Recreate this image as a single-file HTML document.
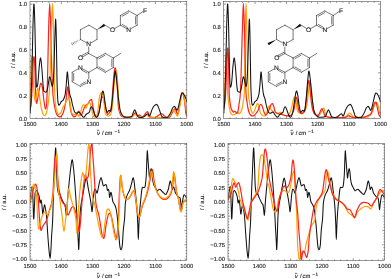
<!DOCTYPE html>
<html lang="en">
<head>
<meta charset="utf-8">
<title>Spectra</title>
<style>
html,body{margin:0;padding:0;background:#fff;}
body{width:392px;height:279px;overflow:hidden;font-family:"Liberation Sans",sans-serif;}
svg{display:block;}
svg text{text-rendering:geometricPrecision;stroke:#222;stroke-width:0.12px;}
</style>
</head>
<body>
<svg width="392" height="279" viewBox="0 0 392 279" font-family="'Liberation Sans', sans-serif" font-size="5.85" fill="#222">
<rect width="392" height="279" fill="#fff"/>
<clipPath id="c1"><rect x="30" y="1.7" width="156.8" height="116.8"/></clipPath>
<clipPath id="c2"><rect x="223.7" y="1.7" width="156.8" height="116.8"/></clipPath>
<clipPath id="c3"><rect x="30" y="143.6" width="156.8" height="117.1"/></clipPath>
<clipPath id="c4"><rect x="228" y="143.6" width="156.6" height="117.1"/></clipPath>
<g clip-path="url(#c1)">
<path d="M30 110C30.22 108.67 30.88 107 31.3 102C31.72 97 32.15 86.83 32.5 80C32.85 73.17 33.13 64.83 33.4 61C33.67 57.17 33.87 56.17 34.1 57C34.33 57.83 34.57 60.5 34.8 66C35.03 71.5 35.23 83.87 35.5 90C35.77 96.13 36.07 101.13 36.4 102.8C36.73 104.47 37.07 101.97 37.5 100C37.93 98.03 38.53 93.58 39 91C39.47 88.42 39.93 85.78 40.3 84.5C40.67 83.22 40.87 82.88 41.2 83.3C41.53 83.72 41.92 84.72 42.3 87C42.68 89.28 43.1 93.83 43.5 97C43.9 100.17 44.33 104.03 44.7 106C45.07 107.97 45.37 109.3 45.7 108.8C46.03 108.3 46.38 108.63 46.7 103C47.02 97.37 47.28 87.17 47.6 75C47.92 62.83 48.25 41.93 48.6 30C48.95 18.07 49.33 3.4 49.7 3.4C50.07 3.4 50.45 18.9 50.8 30C51.15 41.1 51.43 59.17 51.8 70C52.17 80.83 52.55 89 53 95C53.45 101 54 103.08 54.5 106C55 108.92 55.5 110.92 56 112.5C56.5 114.08 56.92 114.78 57.5 115.5C58.08 116.22 58.83 116.72 59.5 116.8C60.17 116.88 60.92 116.58 61.5 116C62.08 115.42 62.58 114.3 63 113.3C63.42 112.3 63.72 111 64 110C64.28 109 64.47 108.38 64.7 107.3C64.93 106.22 65.18 104.67 65.4 103.5C65.62 102.33 65.77 102.22 66 100.3C66.23 98.38 66.53 94.22 66.8 92C67.07 89.78 67.33 87.17 67.6 87C67.87 86.83 68.13 89 68.4 91C68.67 93 68.95 96.72 69.2 99C69.45 101.28 69.57 102.45 69.9 104.7C70.23 106.95 70.8 110.78 71.2 112.5C71.6 114.22 71.95 114.35 72.3 115C72.65 115.65 72.77 116.18 73.3 116.4C73.83 116.62 74.88 116.78 75.5 116.3C76.12 115.82 76.6 114.25 77 113.5C77.4 112.75 77.62 112.18 77.9 111.8C78.18 111.42 78.43 111.08 78.7 111.2C78.97 111.32 79.23 111.93 79.5 112.5C79.77 113.07 80.03 114.1 80.3 114.6C80.57 115.1 80.82 115.6 81.1 115.5C81.38 115.4 81.7 114.65 82 114C82.3 113.35 82.57 112.52 82.9 111.6C83.23 110.68 83.65 109.37 84 108.5C84.35 107.63 84.6 107.03 85 106.4C85.4 105.77 85.95 105.07 86.4 104.7C86.85 104.33 87.2 104.78 87.7 104.2C88.2 103.62 88.78 102.02 89.4 101.2C90.02 100.38 90.95 99.17 91.4 99.3C91.85 99.43 91.85 100.82 92.1 102C92.35 103.18 92.47 104.3 92.9 106.4C93.33 108.5 94.25 112.92 94.7 114.6C95.15 116.28 95.32 116.07 95.6 116.5C95.88 116.93 96.03 117.32 96.4 117.2C96.77 117.08 97.37 116.55 97.8 115.8C98.23 115.05 98.6 114.42 99 112.7C99.4 110.98 99.83 107.7 100.2 105.5C100.57 103.3 100.85 100.92 101.2 99.5C101.55 98.08 101.93 97.25 102.3 97C102.67 96.75 103.07 97.42 103.4 98C103.73 98.58 103.98 99.25 104.3 100.5C104.62 101.75 104.95 103.67 105.3 105.5C105.65 107.33 106 109.98 106.4 111.5C106.8 113.02 107.18 114.43 107.7 114.6C108.22 114.77 109.03 113.27 109.5 112.5C109.97 111.73 110.22 110.87 110.5 110C110.78 109.13 110.95 108.92 111.2 107.3C111.45 105.68 111.72 103.52 112 100.3C112.28 97.08 112.58 92.22 112.9 88C113.22 83.78 113.55 78.37 113.9 75C114.25 71.63 114.62 68.13 115 67.8C115.38 67.47 115.83 70.13 116.2 73C116.57 75.87 116.93 81.17 117.2 85C117.47 88.83 117.63 92.72 117.8 96C117.97 99.28 118.05 102.53 118.2 104.7C118.35 106.87 118.42 107.57 118.7 109C118.98 110.43 119.42 112.07 119.9 113.3C120.38 114.53 120.8 115.75 121.6 116.4C122.4 117.05 123.25 117.07 124.7 117.2C126.15 117.33 129 117.35 130.3 117.2C131.6 117.05 131.88 116.83 132.5 116.3C133.12 115.77 133.53 114.57 134 114C134.47 113.43 134.92 112.85 135.3 112.9C135.68 112.95 135.98 113.78 136.3 114.3C136.62 114.82 136.87 115.78 137.2 116C137.53 116.22 137.93 115.8 138.3 115.6C138.67 115.4 139.03 114.77 139.4 114.8C139.77 114.83 140.07 115.47 140.5 115.8C140.93 116.13 141.45 116.8 142 116.8C142.55 116.8 143.22 116.38 143.8 115.8C144.38 115.22 144.9 114 145.5 113.3C146.1 112.6 146.9 111.57 147.4 111.6C147.9 111.63 148.13 112.73 148.5 113.5C148.87 114.27 149.02 115.53 149.6 116.2C150.18 116.87 150.93 117.32 152 117.5C153.07 117.68 154.87 117.73 156 117.3C157.13 116.87 158.05 115.45 158.8 114.9C159.55 114.35 160 114.18 160.5 114C161 113.82 161.3 113.63 161.8 113.8C162.3 113.97 162.87 114.48 163.5 115C164.13 115.52 164.68 116.48 165.6 116.9C166.52 117.32 168.13 117.73 169 117.5C169.87 117.27 170.23 116.32 170.8 115.5C171.37 114.68 171.9 113.55 172.4 112.6C172.9 111.65 173.38 110.42 173.8 109.8C174.22 109.18 174.53 108.78 174.9 108.9C175.27 109.02 175.58 109.6 176 110.5C176.42 111.4 176.95 114.3 177.4 114.3C177.85 114.3 178.25 112.38 178.7 110.5C179.15 108.62 179.68 105.58 180.1 103C180.52 100.42 180.85 96.78 181.2 95C181.55 93.22 181.85 92.38 182.2 92.3C182.55 92.22 182.93 93.12 183.3 94.5C183.67 95.88 184.08 98.52 184.4 100.6C184.72 102.68 184.93 104.77 185.2 107C185.47 109.23 185.7 112.5 186 114C186.3 115.5 186.83 115.67 187 116" fill="none" stroke="#ff2020" stroke-width="1.2" stroke-linejoin="round" stroke-linecap="round"/>
<path d="M30 108C30.1 105 30.4 97 30.6 90C30.8 83 31 71.5 31.2 66C31.4 60.5 31.58 58 31.8 57C32.02 56 32.25 56.17 32.5 60C32.75 63.83 33.02 74.28 33.3 80C33.58 85.72 33.87 90.75 34.2 94.3C34.53 97.85 34.95 101.02 35.3 101.3C35.65 101.58 35.93 98.13 36.3 96C36.67 93.87 37.1 89.27 37.5 88.5C37.9 87.73 38.28 89.48 38.7 91.4C39.12 93.32 39.53 97.07 40 100C40.47 102.93 41 106.67 41.5 109C42 111.33 42.5 112.9 43 114C43.5 115.1 44 115.6 44.5 115.6C45 115.6 45.5 115.27 46 114C46.5 112.73 47 111 47.5 108C48 105 48.53 102.33 49 96C49.47 89.67 49.9 81 50.3 70C50.7 59 51.02 41.1 51.4 30C51.78 18.9 52.27 3.4 52.6 3.4C52.93 3.4 53.13 18.07 53.4 30C53.67 41.93 53.92 63.33 54.2 75C54.48 86.67 54.72 94.08 55.1 100C55.48 105.92 55.92 108.07 56.5 110.5C57.08 112.93 58.02 114.1 58.6 114.6C59.18 115.1 59.57 113.93 60 113.5C60.43 113.07 60.72 113.03 61.2 112C61.68 110.97 62.32 108.52 62.9 107.3C63.48 106.08 64.12 105.72 64.7 104.7C65.28 103.68 65.85 102.27 66.4 101.2C66.95 100.13 67.57 98.92 68 98.3C68.43 97.68 68.72 97.22 69 97.5C69.28 97.78 69.48 98.8 69.7 100C69.92 101.2 69.98 102.62 70.3 104.7C70.62 106.78 71.1 110.92 71.6 112.5C72.1 114.08 72.65 113.85 73.3 114.2C73.95 114.55 74.92 114.8 75.5 114.6C76.08 114.4 76.37 113 76.8 113C77.23 113 77.73 114.05 78.1 114.6C78.47 115.15 78.7 116.23 79 116.3C79.3 116.37 79.62 115.63 79.9 115C80.18 114.37 80.35 113.78 80.7 112.5C81.05 111.22 81.62 108.52 82 107.3C82.38 106.08 82.7 105.63 83 105.2C83.3 104.77 83.5 104.57 83.8 104.7C84.1 104.83 84.45 105.43 84.8 106C85.15 106.57 85.57 108.05 85.9 108.1C86.23 108.15 86.5 107.02 86.8 106.3C87.1 105.58 87.4 104.38 87.7 103.8C88 103.22 88.3 103.05 88.6 102.8C88.9 102.55 89.2 102.1 89.5 102.3C89.8 102.5 90.12 103.17 90.4 104C90.68 104.83 90.78 105.53 91.2 107.3C91.62 109.07 92.47 113.07 92.9 114.6C93.33 116.13 93.5 116.07 93.8 116.5C94.1 116.93 94.27 117.15 94.7 117.2C95.13 117.25 95.97 117.33 96.4 116.8C96.83 116.27 97.02 115.3 97.3 114C97.58 112.7 97.82 111.28 98.1 109C98.38 106.72 98.73 102.47 99 100.3C99.27 98.13 99.43 97.13 99.7 96C99.97 94.87 100.3 94 100.6 93.5C100.9 93 101.2 92.92 101.5 93C101.8 93.08 102.1 93.42 102.4 94C102.7 94.58 103 94.72 103.3 96.5C103.6 98.28 103.9 102.03 104.2 104.7C104.5 107.37 104.8 110.82 105.1 112.5C105.4 114.18 105.72 114.3 106 114.8C106.28 115.3 106.3 115.3 106.8 115.5C107.3 115.7 108.35 116.15 109 116C109.65 115.85 110.2 115.77 110.7 114.6C111.2 113.43 111.63 111.38 112 109C112.37 106.62 112.6 103.8 112.9 100.3C113.2 96.8 113.43 91.88 113.8 88C114.17 84.12 114.67 79.92 115.1 77C115.53 74.08 116.05 70.67 116.4 70.5C116.75 70.33 116.97 73.58 117.2 76C117.43 78.42 117.62 82 117.8 85C117.98 88 118.13 91.17 118.3 94C118.47 96.83 118.6 99.42 118.8 102C119 104.58 119.17 107.58 119.5 109.5C119.83 111.42 120.22 112.33 120.8 113.5C121.38 114.67 121.97 115.88 123 116.5C124.03 117.12 125.67 117.12 127 117.2C128.33 117.28 129.95 117.2 131 117C132.05 116.8 132.7 116.4 133.3 116C133.9 115.6 134.2 114.8 134.6 114.6C135 114.4 135.33 114.65 135.7 114.8C136.07 114.95 136.25 115.17 136.8 115.5C137.35 115.83 137.97 116.55 139 116.8C140.03 117.05 141.92 117.22 143 117C144.08 116.78 144.87 115.9 145.5 115.5C146.13 115.1 146.38 114.55 146.8 114.6C147.22 114.65 147.47 115.4 148 115.8C148.53 116.2 148 116.72 150 117C152 117.28 157 117.42 160 117.5C163 117.58 166.37 117.83 168 117.5C169.63 117.17 169.3 116.25 169.8 115.5C170.3 114.75 170.58 113.75 171 113C171.42 112.25 171.9 111.43 172.3 111C172.7 110.57 172.98 110.27 173.4 110.4C173.82 110.53 174.3 111.1 174.8 111.8C175.3 112.5 175.95 113.9 176.4 114.6C176.85 115.3 177.13 116.27 177.5 116C177.87 115.73 178.15 115 178.6 113C179.05 111 179.7 106.83 180.2 104C180.7 101.17 181.18 97.95 181.6 96C182.02 94.05 182.33 92.47 182.7 92.3C183.07 92.13 183.43 93.38 183.8 95C184.17 96.62 184.53 99.67 184.9 102C185.27 104.33 185.65 107.17 186 109C186.35 110.83 186.83 112.33 187 113" fill="none" stroke="#ffa000" stroke-width="1.2" stroke-linejoin="round" stroke-linecap="round"/>
<path d="M30 113C30.17 110.83 30.67 107.17 31 100C31.33 92.83 31.67 82.5 32 70C32.33 57.5 32.67 36 33 25C33.33 14 33.67 3.17 34 4C34.33 4.83 34.72 19.83 35 30C35.28 40.17 35.48 56 35.7 65C35.92 74 36.08 80.33 36.3 84C36.52 87.67 36.72 87.33 37 87C37.28 86.67 37.62 85.5 38 82C38.38 78.5 38.87 70 39.3 66C39.73 62 40.18 57.67 40.6 58C41.02 58.33 41.4 63.67 41.8 68C42.2 72.33 42.67 80.2 43 84C43.33 87.8 43.42 89.47 43.8 90.8C44.18 92.13 44.8 91.88 45.3 92C45.8 92.12 46.35 92.5 46.8 91.5C47.25 90.5 47.55 88.42 48 86C48.45 83.58 49.03 78 49.5 77C49.97 76 50.38 78.5 50.8 80C51.22 81.5 51.63 85.33 52 86C52.37 86.67 52.68 86.67 53 84C53.32 81.33 53.6 77.33 53.9 70C54.2 62.67 54.5 48.5 54.8 40C55.1 31.5 55.43 18.67 55.7 19C55.97 19.33 56.18 31.83 56.4 42C56.62 52.17 56.77 70.33 57 80C57.23 89.67 57.53 95.83 57.8 100C58.07 104.17 58.23 104.33 58.6 105C58.97 105.67 59.53 104.6 60 104C60.47 103.4 60.87 102.07 61.4 101.4C61.93 100.73 62.57 101.18 63.2 100C63.83 98.82 64.68 96.97 65.2 94.3C65.72 91.63 65.95 87.72 66.3 84C66.65 80.28 66.98 72.67 67.3 72C67.62 71.33 67.88 76.92 68.2 80C68.52 83.08 68.87 87.83 69.2 90.5C69.53 93.17 69.87 94.67 70.2 96C70.53 97.33 70.85 97.17 71.2 98.5C71.55 99.83 71.92 102.33 72.3 104C72.68 105.67 73.08 107.12 73.5 108.5C73.92 109.88 74.25 111.5 74.8 112.3C75.35 113.1 76.27 113.27 76.8 113.3C77.33 113.33 77.63 112.72 78 112.5C78.37 112.28 78.67 111.92 79 112C79.33 112.08 79.65 112.57 80 113C80.35 113.43 80.68 114.05 81.1 114.6C81.52 115.15 82.05 115.87 82.5 116.3C82.95 116.73 83.38 117.25 83.8 117.2C84.22 117.15 84.65 116.43 85 116C85.35 115.57 85.45 115.05 85.9 114.6C86.35 114.15 87.12 113.73 87.7 113.3C88.28 112.87 88.93 112.88 89.4 112C89.87 111.12 90.13 108.87 90.5 108C90.87 107.13 91.27 106.75 91.6 106.8C91.93 106.85 92.2 107.65 92.5 108.3C92.8 108.95 92.97 109.5 93.4 110.7C93.83 111.9 94.67 114.48 95.1 115.5C95.53 116.52 95.72 116.52 96 116.8C96.28 117.08 96.47 117.42 96.8 117.2C97.13 116.98 97.63 116.28 98 115.5C98.37 114.72 98.62 114.3 99 112.5C99.38 110.7 99.87 107.45 100.3 104.7C100.73 101.95 101.27 98.12 101.6 96C101.93 93.88 102.08 92.83 102.3 92C102.52 91.17 102.7 90.92 102.9 91C103.1 91.08 103.28 91.67 103.5 92.5C103.72 93.33 103.9 93.97 104.2 96C104.5 98.03 104.93 102.25 105.3 104.7C105.67 107.15 106.08 109.4 106.4 110.7C106.72 112 106.9 112.42 107.2 112.5C107.5 112.58 107.9 111.57 108.2 111.2C108.5 110.83 108.7 110.37 109 110.3C109.3 110.23 109.72 110.65 110 110.8C110.28 110.95 110.48 111.58 110.7 111.2C110.92 110.82 111.12 109.58 111.3 108.5C111.48 107.42 111.57 106.78 111.8 104.7C112.03 102.62 112.38 99.45 112.7 96C113.02 92.55 113.3 88.12 113.7 84C114.1 79.88 114.67 72.47 115.1 71.3C115.53 70.13 115.92 74.22 116.3 77C116.68 79.78 117.05 84.5 117.4 88C117.75 91.5 118.08 95.22 118.4 98C118.72 100.78 119.05 102.87 119.3 104.7C119.55 106.53 119.58 107.57 119.9 109C120.22 110.43 120.62 112.07 121.2 113.3C121.78 114.53 122.68 115.75 123.4 116.4C124.12 117.05 124.73 117.05 125.5 117.2C126.27 117.35 127.08 117.37 128 117.3C128.92 117.23 130.33 117.02 131 116.8C131.67 116.58 131.62 116.72 132 116C132.38 115.28 132.87 113.52 133.3 112.5C133.73 111.48 134.23 110.15 134.6 109.9C134.97 109.65 135.2 110.43 135.5 111C135.8 111.57 135.97 112.33 136.4 113.3C136.83 114.27 137.3 116.12 138.1 116.8C138.9 117.48 140.25 117.4 141.2 117.4C142.15 117.4 142.93 117.27 143.8 116.8C144.67 116.33 145.72 115.1 146.4 114.6C147.08 114.1 147.42 113.57 147.9 113.8C148.38 114.03 148.87 115.97 149.3 116C149.73 116.03 150.05 115.07 150.5 114C150.95 112.93 151.42 110.93 152 109.6C152.58 108.27 153.28 106.87 154 106C154.72 105.13 155.7 104.48 156.3 104.4C156.9 104.32 157.18 104.88 157.6 105.5C158.02 106.12 158.35 106.93 158.8 108.1C159.25 109.27 159.8 111.12 160.3 112.5C160.8 113.88 161.05 115.52 161.8 116.4C162.55 117.28 163.85 117.67 164.8 117.8C165.75 117.93 166.73 117.7 167.5 117.2C168.27 116.7 168.82 115.68 169.4 114.8C169.98 113.92 170.47 113.03 171 111.9C171.53 110.77 172.07 108.92 172.6 108C173.13 107.08 173.7 106.43 174.2 106.4C174.7 106.37 175.15 107.13 175.6 107.8C176.05 108.47 176.47 110.45 176.9 110.4C177.33 110.35 177.77 108.9 178.2 107.5C178.63 106.1 179.03 104 179.5 102C179.97 100 180.55 97 181 95.5C181.45 94 181.78 93.28 182.2 93C182.62 92.72 183.07 93.3 183.5 93.8C183.93 94.3 184.38 95.13 184.8 96C185.22 96.87 185.63 98 186 99C186.37 100 186.83 101.5 187 102" fill="none" stroke="#111" stroke-width="1.05" stroke-linejoin="round" stroke-linecap="round"/>
</g>
<path d="M88.9 25.2L97 29.8" stroke="#222" stroke-width="0.62" fill="none" stroke-linecap="round"/>
<path d="M97 29.8L97 39.4" stroke="#222" stroke-width="0.62" fill="none" stroke-linecap="round"/>
<path d="M80.4 29.8L88.9 25.2" stroke="#222" stroke-width="0.62" fill="none" stroke-linecap="round"/>
<path d="M80.4 39.4L80.4 29.8" stroke="#222" stroke-width="0.62" fill="none" stroke-linecap="round"/>
<path d="M97 39.4L90.96 42.82" stroke="#222" stroke-width="0.62" fill="none" stroke-linecap="round"/>
<path d="M86.44 42.82L80.4 39.4" stroke="#222" stroke-width="0.62" fill="none" stroke-linecap="round"/>
<text x="88.7" y="46.45" text-anchor="middle" font-size="6.6" fill="#222">N</text>
<path d="M78.8 39.8L79.23 40.57" stroke="#222" stroke-width="0.55"/>
<path d="M77.32 40.42L77.95 41.52" stroke="#222" stroke-width="0.55"/>
<path d="M75.84 41.03L76.66 42.47" stroke="#222" stroke-width="0.55"/>
<path d="M74.37 41.65L75.37 43.42" stroke="#222" stroke-width="0.55"/>
<path d="M72.89 42.27L74.08 44.37" stroke="#222" stroke-width="0.55"/>
<path d="M71.41 42.88L72.79 45.32" stroke="#222" stroke-width="0.55"/>
<path d="M97 29.8L105.28 25.95L103.92 23.85Z" fill="#111"/>
<path d="M104.6 24.9L110.19 28.3" stroke="#222" stroke-width="0.62" fill="none" stroke-linecap="round"/>
<text x="112.5" y="32.05" text-anchor="middle" font-size="6.6" fill="#222">O</text>
<path d="M114.85 28.36L120.4 25.2" stroke="#222" stroke-width="0.62" fill="none" stroke-linecap="round"/>
<path d="M120.4 25.2L126.43 28.54" stroke="#222" stroke-width="0.62" fill="none" stroke-linecap="round"/>
<path d="M122.18 24.47L126.98 27.13" stroke="#222" stroke-width="0.62" fill="none" stroke-linecap="round"/>
<path d="M130.98 28.55L137.1 25.2" stroke="#222" stroke-width="0.62" fill="none" stroke-linecap="round"/>
<path d="M137.1 25.2L137.1 15.5" stroke="#222" stroke-width="0.62" fill="none" stroke-linecap="round"/>
<path d="M135.6 24L135.6 16.7" stroke="#222" stroke-width="0.62" fill="none" stroke-linecap="round"/>
<path d="M137.1 15.5L128.7 10.9" stroke="#222" stroke-width="0.62" fill="none" stroke-linecap="round"/>
<path d="M128.7 10.9L120.4 15.5" stroke="#222" stroke-width="0.62" fill="none" stroke-linecap="round"/>
<path d="M128.38 12.79L122.18 16.23" stroke="#222" stroke-width="0.62" fill="none" stroke-linecap="round"/>
<path d="M120.4 15.5L120.4 25.2" stroke="#222" stroke-width="0.62" fill="none" stroke-linecap="round"/>
<path d="M137.1 15.5L142.84 11.65" stroke="#222" stroke-width="0.62" fill="none" stroke-linecap="round"/>
<text x="145" y="12.55" text-anchor="middle" font-size="6.6" fill="#222">F</text>
<path d="M88.7 47L88.7 53.5" stroke="#222" stroke-width="0.62" fill="none" stroke-linecap="round"/>
<path d="M88.7 53.5L82.96 56.69" stroke="#222" stroke-width="0.62" fill="none" stroke-linecap="round"/>
<path d="M87.69 52.35L82.21 55.39" stroke="#222" stroke-width="0.62" fill="none" stroke-linecap="round"/>
<text x="80.6" y="60.35" text-anchor="middle" font-size="6.6" fill="#222">O</text>
<path d="M88.7 53.5L97 58" stroke="#222" stroke-width="0.62" fill="none" stroke-linecap="round"/>
<path d="M97 58L105.2 53.4" stroke="#222" stroke-width="0.62" fill="none" stroke-linecap="round"/>
<path d="M98.78 58.72L104.89 55.3" stroke="#222" stroke-width="0.62" fill="none" stroke-linecap="round"/>
<path d="M105.2 53.4L113.3 58" stroke="#222" stroke-width="0.62" fill="none" stroke-linecap="round"/>
<path d="M113.3 58L113.3 67.6" stroke="#222" stroke-width="0.62" fill="none" stroke-linecap="round"/>
<path d="M111.8 59.2L111.8 66.4" stroke="#222" stroke-width="0.62" fill="none" stroke-linecap="round"/>
<path d="M113.3 67.6L105.2 72.3" stroke="#222" stroke-width="0.62" fill="none" stroke-linecap="round"/>
<path d="M105.2 72.3L97 67.6" stroke="#222" stroke-width="0.62" fill="none" stroke-linecap="round"/>
<path d="M104.9 70.4L98.79 66.9" stroke="#222" stroke-width="0.62" fill="none" stroke-linecap="round"/>
<path d="M97 67.6L97 58" stroke="#222" stroke-width="0.62" fill="none" stroke-linecap="round"/>
<path d="M113.3 58L120.6 53.5" stroke="#222" stroke-width="0.62" fill="none" stroke-linecap="round"/>
<path d="M97 67.6L88.8 72.3" stroke="#222" stroke-width="0.62" fill="none" stroke-linecap="round"/>
<path d="M88.8 72.3L82.58 68.86" stroke="#222" stroke-width="0.62" fill="none" stroke-linecap="round"/>
<path d="M87.02 73.03L82.02 70.27" stroke="#222" stroke-width="0.62" fill="none" stroke-linecap="round"/>
<path d="M78.05 68.9L72.2 72.3" stroke="#222" stroke-width="0.62" fill="none" stroke-linecap="round"/>
<path d="M72.2 72.3L72.2 81.7" stroke="#222" stroke-width="0.62" fill="none" stroke-linecap="round"/>
<path d="M73.7 73.5L73.7 80.5" stroke="#222" stroke-width="0.62" fill="none" stroke-linecap="round"/>
<path d="M72.2 81.7L80.3 86.4" stroke="#222" stroke-width="0.62" fill="none" stroke-linecap="round"/>
<path d="M80.3 86.4L86.5 83.12" stroke="#222" stroke-width="0.62" fill="none" stroke-linecap="round"/>
<path d="M80.66 84.51L85.62 81.88" stroke="#222" stroke-width="0.62" fill="none" stroke-linecap="round"/>
<path d="M88.8 79.1L88.8 72.3" stroke="#222" stroke-width="0.62" fill="none" stroke-linecap="round"/>
<text x="80.3" y="69.95" text-anchor="middle" font-size="6.6" fill="#222">N</text>
<text x="88.8" y="84.25" text-anchor="middle" font-size="6.6" fill="#222">N</text>
<text x="128.7" y="32.15" text-anchor="middle" font-size="6.6" fill="#222">N</text>
<rect x="30" y="1.7" width="156.8" height="116.8" fill="none" stroke="#444" stroke-width="0.55"/>
<path d="M180.53 118.5v-1.2M180.53 1.7v1.2M174.26 118.5v-1.2M174.26 1.7v1.2M167.98 118.5v-1.2M167.98 1.7v1.2M161.71 118.5v-1.2M161.71 1.7v1.2M155.44 118.5v-2.4M155.44 1.7v2.4M149.17 118.5v-1.2M149.17 1.7v1.2M142.9 118.5v-1.2M142.9 1.7v1.2M136.62 118.5v-1.2M136.62 1.7v1.2M130.35 118.5v-1.2M130.35 1.7v1.2M124.08 118.5v-2.4M124.08 1.7v2.4M117.81 118.5v-1.2M117.81 1.7v1.2M111.54 118.5v-1.2M111.54 1.7v1.2M105.26 118.5v-1.2M105.26 1.7v1.2M98.99 118.5v-1.2M98.99 1.7v1.2M92.72 118.5v-2.4M92.72 1.7v2.4M86.45 118.5v-1.2M86.45 1.7v1.2M80.18 118.5v-1.2M80.18 1.7v1.2M73.9 118.5v-1.2M73.9 1.7v1.2M67.63 118.5v-1.2M67.63 1.7v1.2M61.36 118.5v-2.4M61.36 1.7v2.4M55.09 118.5v-1.2M55.09 1.7v1.2M48.82 118.5v-1.2M48.82 1.7v1.2M42.54 118.5v-1.2M42.54 1.7v1.2M36.27 118.5v-1.2M36.27 1.7v1.2M30 95.64h2.4M186.8 95.64h-2.4M30 72.78h2.4M186.8 72.78h-2.4M30 49.92h2.4M186.8 49.92h-2.4M30 27.06h2.4M186.8 27.06h-2.4M30 4.2h2.4M186.8 4.2h-2.4M30 112.78h1.2M186.8 112.78h-1.2M30 107.07h1.2M186.8 107.07h-1.2M30 101.36h1.2M186.8 101.36h-1.2M30 89.92h1.2M186.8 89.92h-1.2M30 84.21h1.2M186.8 84.21h-1.2M30 78.5h1.2M186.8 78.5h-1.2M30 67.06h1.2M186.8 67.06h-1.2M30 61.35h1.2M186.8 61.35h-1.2M30 55.63h1.2M186.8 55.63h-1.2M30 44.2h1.2M186.8 44.2h-1.2M30 38.49h1.2M186.8 38.49h-1.2M30 32.78h1.2M186.8 32.78h-1.2M30 21.34h1.2M186.8 21.34h-1.2M30 15.63h1.2M186.8 15.63h-1.2M30 9.92h1.2M186.8 9.92h-1.2" stroke="#444" stroke-width="0.55" fill="none"/>
<text x="186.8" y="126.1" text-anchor="middle">1000</text>
<text x="155.44" y="126.1" text-anchor="middle">1100</text>
<text x="124.08" y="126.1" text-anchor="middle">1200</text>
<text x="92.72" y="126.1" text-anchor="middle">1300</text>
<text x="61.36" y="126.1" text-anchor="middle">1400</text>
<text x="30" y="126.1" text-anchor="middle">1500</text>
<text x="27.1" y="120.6" text-anchor="end">0.0</text>
<text x="27.1" y="97.74" text-anchor="end">0.2</text>
<text x="27.1" y="74.88" text-anchor="end">0.4</text>
<text x="27.1" y="52.02" text-anchor="end">0.6</text>
<text x="27.1" y="29.16" text-anchor="end">0.8</text>
<text x="27.1" y="6.3" text-anchor="end">1.0</text>
<text x="96.9" y="134.8"><tspan font-style="italic">ν̃</tspan></text>
<text x="102" y="134.8">/</text>
<text x="104.7" y="134.8">cm</text>
<text x="114.4" y="133.1" font-size="4.6">−</text>
<text x="117.5" y="133.1" font-size="4.6">1</text>
<text transform="translate(15 60.1) rotate(-90)" text-anchor="middle"><tspan font-style="italic">I</tspan> / a.u.</text>
<g clip-path="url(#c2)">
<path d="M223.7 110C223.82 108.33 224.17 105.33 224.4 100C224.63 94.67 224.87 85.17 225.1 78C225.33 70.83 225.58 61.17 225.8 57C226.02 52.83 226.2 51.83 226.4 53C226.6 54.17 226.78 57.33 227 64C227.22 70.67 227.45 86.67 227.7 93C227.95 99.33 228.22 99.5 228.5 102C228.78 104.5 229.07 106.25 229.4 108C229.73 109.75 230.1 111.4 230.5 112.5C230.9 113.6 231.3 114.22 231.8 114.6C232.3 114.98 232.97 114.85 233.5 114.8C234.03 114.75 234.42 114.77 235 114.3C235.58 113.83 236.47 112.25 237 112C237.53 111.75 237.82 112.5 238.2 112.8C238.58 113.1 238.87 113.93 239.3 113.8C239.73 113.67 240.3 112.97 240.8 112C241.3 111.03 241.88 109.83 242.3 108C242.72 106.17 242.97 103.5 243.3 101C243.63 98.5 244.03 99.83 244.3 93C244.57 86.17 244.72 71.33 244.9 60C245.08 48.67 245.22 34.43 245.4 25C245.58 15.57 245.78 3.4 246 3.4C246.22 3.4 246.45 15.57 246.7 25C246.95 34.43 247.22 48.67 247.5 60C247.78 71.33 248.07 86 248.4 93C248.73 100 249.13 99.5 249.5 102C249.87 104.5 250.22 106.33 250.6 108C250.98 109.67 251.42 111.1 251.8 112C252.18 112.9 252.5 113.48 252.9 113.4C253.3 113.32 253.77 112.4 254.2 111.5C254.63 110.6 255.07 109.17 255.5 108C255.93 106.83 256.42 105.23 256.8 104.5C257.18 103.77 257.43 103.27 257.8 103.6C258.17 103.93 258.58 105 259 106.5C259.42 108 259.72 111.08 260.3 112.6C260.88 114.12 261.63 115.1 262.5 115.6C263.37 116.1 264.83 115.95 265.5 115.6C266.17 115.25 266.17 114.43 266.5 113.5C266.83 112.57 267.18 111.08 267.5 110C267.82 108.92 268.1 107.68 268.4 107C268.7 106.32 268.97 105.82 269.3 105.9C269.63 105.98 270.02 106.75 270.4 107.5C270.78 108.25 271 109.7 271.6 110.4C272.2 111.1 273 111.2 274 111.7C275 112.2 276.77 113.23 277.6 113.4C278.43 113.57 278.5 112.88 279 112.7C279.5 112.52 280.1 112.17 280.6 112.3C281.1 112.43 281.5 113.05 282 113.5C282.5 113.95 282.58 114.65 283.6 115C284.62 115.35 287.03 116.02 288.1 115.6C289.17 115.18 289.37 114 290 112.5C290.63 111 291.32 108.85 291.9 106.6C292.48 104.35 293.03 100.62 293.5 99C293.97 97.38 294.32 96.73 294.7 96.9C295.08 97.07 295.47 98.48 295.8 100C296.13 101.52 296.4 104.12 296.7 106C297 107.88 296.97 110.05 297.6 111.3C298.23 112.55 299.6 113.22 300.5 113.5C301.4 113.78 302.2 113.5 303 113C303.8 112.5 304.67 111.83 305.3 110.5C305.93 109.17 306.35 107.42 306.8 105C307.25 102.58 307.63 98.92 308 96C308.37 93.08 308.72 89.63 309 87.5C309.28 85.37 309.5 84.07 309.7 83.2C309.9 82.33 310 82 310.2 82.3C310.4 82.6 310.65 83.22 310.9 85C311.15 86.78 311.42 90 311.7 93C311.98 96 312.27 100.08 312.6 103C312.93 105.92 313.22 108.58 313.7 110.5C314.18 112.42 314.95 113.67 315.5 114.5C316.05 115.33 316.33 115.42 317 115.5C317.67 115.58 318.75 115.67 319.5 115C320.25 114.33 320.98 112.5 321.5 111.5C322.02 110.5 322.25 109.58 322.6 109C322.95 108.42 323.3 107.92 323.6 108C323.9 108.08 324.17 108.83 324.4 109.5C324.63 110.17 324.67 110.88 325 112C325.33 113.12 325.57 115.32 326.4 116.2C327.23 117.08 327.07 117.12 330 117.3C332.93 117.48 341.17 117.6 344 117.3C346.83 117 346.25 116.08 347 115.5C347.75 114.92 348.03 114.22 348.5 113.8C348.97 113.38 349.35 112.92 349.8 113C350.25 113.08 350.75 113.8 351.2 114.3C351.65 114.8 351.98 115.5 352.5 116C353.02 116.5 352.5 117.08 354.3 117.3C356.22 117.52 361.75 117.43 364 117.3C366.25 117.17 366.72 116.85 367.8 116.5C368.88 116.15 369.75 115.95 370.5 115.2C371.25 114.45 371.78 113.2 372.3 112C372.82 110.8 373.15 109.33 373.6 108C374.05 106.67 374.57 104.88 375 104C375.43 103.12 375.88 102.95 376.2 102.7C376.52 102.45 376.63 102.2 376.9 102.5C377.17 102.8 377.48 103.5 377.8 104.5C378.12 105.5 378.47 107.25 378.8 108.5C379.13 109.75 379.52 111.08 379.8 112C380.08 112.92 380.38 113.67 380.5 114" fill="none" stroke="#ffa000" stroke-width="1.2" stroke-linejoin="round" stroke-linecap="round"/>
<path d="M223.7 108C223.95 106.67 224.77 105 225.2 100C225.63 95 225.97 85.67 226.3 78C226.63 70.33 226.93 58.93 227.2 54C227.47 49.07 227.68 47.4 227.9 48.4C228.12 49.4 228.28 52.57 228.5 60C228.72 67.43 228.95 86 229.2 93C229.45 100 229.7 99.5 230 102C230.3 104.5 230.45 106.33 231 108C231.55 109.67 232.63 111.45 233.3 112C233.97 112.55 234.38 111.07 235 111.3C235.62 111.53 236.5 113.45 237 113.4C237.5 113.35 237.68 112.4 238 111C238.32 109.6 238.5 108 238.9 105C239.3 102 239.97 100.5 240.4 93C240.83 85.5 241.15 71.33 241.5 60C241.85 48.67 242.18 34.43 242.5 25C242.82 15.57 243.1 3.4 243.4 3.4C243.7 3.4 244 15.57 244.3 25C244.6 34.43 244.92 48.67 245.2 60C245.48 71.33 245.7 86 246 93C246.3 100 246.68 99.5 247 102C247.32 104.5 247.48 106.08 247.9 108C248.32 109.92 248.92 112.23 249.5 113.5C250.08 114.77 250.65 115.25 251.4 115.6C252.15 115.95 253.23 115.95 254 115.6C254.77 115.25 255.33 114.37 256 113.5C256.67 112.63 257.42 111.65 258 110.4C258.58 109.15 259 107 259.5 106C260 105 260.5 104.23 261 104.4C261.5 104.57 262 105.73 262.5 107C263 108.27 263.5 110.67 264 112C264.5 113.33 265 114.67 265.5 115C266 115.33 266.42 114.83 267 114C267.58 113.17 268.37 111.5 269 110C269.63 108.5 270.25 106.07 270.8 105C271.35 103.93 271.8 103.35 272.3 103.6C272.8 103.85 273.3 105.1 273.8 106.5C274.3 107.9 274.55 110.78 275.3 112C276.05 113.22 277.18 113.38 278.3 113.8C279.42 114.22 280.73 114.2 282 114.5C283.27 114.8 284.57 115.42 285.9 115.6C287.23 115.78 288.98 115.87 290 115.6C291.02 115.33 291.33 115.02 292 114C292.67 112.98 293.47 111.42 294 109.5C294.53 107.58 294.87 104.37 295.2 102.5C295.53 100.63 295.78 99.17 296 98.3C296.22 97.43 296.32 97.18 296.5 97.3C296.68 97.42 296.87 97.72 297.1 99C297.33 100.28 297.62 103.08 297.9 105C298.18 106.92 298.28 109.12 298.8 110.5C299.32 111.88 300.3 112.88 301 113.3C301.7 113.72 302.37 113.55 303 113C303.63 112.45 304.3 111.5 304.8 110C305.3 108.5 305.63 106.67 306 104C306.37 101.33 306.68 97.17 307 94C307.32 90.83 307.62 87.28 307.9 85C308.18 82.72 308.43 80.47 308.7 80.3C308.97 80.13 309.23 82.05 309.5 84C309.77 85.95 310.02 89.17 310.3 92C310.58 94.83 310.87 98.33 311.2 101C311.53 103.67 311.87 106 312.3 108C312.73 110 313.18 111.83 313.8 113C314.42 114.17 315.22 114.67 316 115C316.78 115.33 317.75 115.67 318.5 115C319.25 114.33 319.92 112.05 320.5 111C321.08 109.95 321.5 108.53 322 108.7C322.5 108.87 322.95 110.75 323.5 112C324.05 113.25 324.22 115.32 325.3 116.2C326.38 117.08 326.72 117.12 330 117.3C333.28 117.48 342.17 117.43 345 117.3C347 117.17 346.33 116.8 347 116.5C347.67 116.2 348.33 115.45 349 115.5C349.67 115.55 350.33 116.5 351 116.8C351.67 117.1 351.17 117.22 353 117.3C354.83 117.38 359.83 117.42 362 117.3C364.17 117.18 364.9 116.95 366 116.6C367.1 116.25 367.85 115.57 368.6 115.2C369.35 114.83 369.93 115.1 370.5 114.4C371.07 113.7 371.53 112.32 372 111C372.47 109.68 372.88 107.83 373.3 106.5C373.72 105.17 374.13 103.75 374.5 103C374.87 102.25 375.18 101.92 375.5 102C375.82 102.08 376.08 102.5 376.4 103.5C376.72 104.5 377.05 106.42 377.4 108C377.75 109.58 378.15 111.67 378.5 113C378.85 114.33 379.17 115.33 379.5 116C379.83 116.67 380.33 116.83 380.5 117" fill="none" stroke="#ff2020" stroke-width="1.2" stroke-linejoin="round" stroke-linecap="round"/>
<path d="M223.7 113C223.87 110.83 224.37 107.17 224.7 100C225.03 92.83 225.37 82.5 225.7 70C226.03 57.5 226.37 36 226.7 25C227.03 14 227.37 3.17 227.7 4C228.03 4.83 228.42 19.83 228.7 30C228.98 40.17 229.18 56 229.4 65C229.62 74 229.78 80.33 230 84C230.22 87.67 230.42 87.33 230.7 87C230.98 86.67 231.32 85.5 231.7 82C232.08 78.5 232.57 70 233 66C233.43 62 233.88 57.67 234.3 58C234.72 58.33 235.1 63.67 235.5 68C235.9 72.33 236.37 80.2 236.7 84C237.03 87.8 237.12 89.47 237.5 90.8C237.88 92.13 238.5 91.88 239 92C239.5 92.12 240.05 92.5 240.5 91.5C240.95 90.5 241.25 88.42 241.7 86C242.15 83.58 242.73 78 243.2 77C243.67 76 244.08 78.5 244.5 80C244.92 81.5 245.33 85.33 245.7 86C246.07 86.67 246.38 86.67 246.7 84C247.02 81.33 247.3 77.33 247.6 70C247.9 62.67 248.2 48.5 248.5 40C248.8 31.5 249.13 18.67 249.4 19C249.67 19.33 249.88 31.83 250.1 42C250.32 52.17 250.47 70.33 250.7 80C250.93 89.67 251.23 95.83 251.5 100C251.77 104.17 251.93 104.33 252.3 105C252.67 105.67 253.23 104.6 253.7 104C254.17 103.4 254.57 102.07 255.1 101.4C255.63 100.73 256.27 101.18 256.9 100C257.53 98.82 258.38 96.97 258.9 94.3C259.42 91.63 259.65 87.72 260 84C260.35 80.28 260.68 72.67 261 72C261.32 71.33 261.58 76.92 261.9 80C262.22 83.08 262.57 87.83 262.9 90.5C263.23 93.17 263.57 94.67 263.9 96C264.23 97.33 264.55 97.17 264.9 98.5C265.25 99.83 265.62 102.33 266 104C266.38 105.67 266.78 107.12 267.2 108.5C267.62 109.88 267.95 111.5 268.5 112.3C269.05 113.1 269.97 113.27 270.5 113.3C271.03 113.33 271.33 112.72 271.7 112.5C272.07 112.28 272.37 111.92 272.7 112C273.03 112.08 273.35 112.57 273.7 113C274.05 113.43 274.38 114.05 274.8 114.6C275.22 115.15 275.75 115.87 276.2 116.3C276.65 116.73 277.08 117.25 277.5 117.2C277.92 117.15 278.35 116.43 278.7 116C279.05 115.57 279.15 115.05 279.6 114.6C280.05 114.15 280.82 113.73 281.4 113.3C281.98 112.87 282.63 112.88 283.1 112C283.57 111.12 283.83 108.87 284.2 108C284.57 107.13 284.97 106.75 285.3 106.8C285.63 106.85 285.9 107.65 286.2 108.3C286.5 108.95 286.67 109.5 287.1 110.7C287.53 111.9 288.37 114.48 288.8 115.5C289.23 116.52 289.42 116.52 289.7 116.8C289.98 117.08 290.17 117.42 290.5 117.2C290.83 116.98 291.33 116.28 291.7 115.5C292.07 114.72 292.32 114.3 292.7 112.5C293.08 110.7 293.57 107.45 294 104.7C294.43 101.95 294.97 98.12 295.3 96C295.63 93.88 295.78 92.83 296 92C296.22 91.17 296.4 90.92 296.6 91C296.8 91.08 296.98 91.67 297.2 92.5C297.42 93.33 297.6 93.97 297.9 96C298.2 98.03 298.63 102.25 299 104.7C299.37 107.15 299.78 109.4 300.1 110.7C300.42 112 300.6 112.42 300.9 112.5C301.2 112.58 301.6 111.57 301.9 111.2C302.2 110.83 302.4 110.37 302.7 110.3C303 110.23 303.42 110.65 303.7 110.8C303.98 110.95 304.18 111.58 304.4 111.2C304.62 110.82 304.82 109.58 305 108.5C305.18 107.42 305.27 106.78 305.5 104.7C305.73 102.62 306.08 99.45 306.4 96C306.72 92.55 307 88.12 307.4 84C307.8 79.88 308.37 72.47 308.8 71.3C309.23 70.13 309.62 74.22 310 77C310.38 79.78 310.75 84.5 311.1 88C311.45 91.5 311.78 95.22 312.1 98C312.42 100.78 312.75 102.87 313 104.7C313.25 106.53 313.28 107.57 313.6 109C313.92 110.43 314.32 112.07 314.9 113.3C315.48 114.53 316.38 115.75 317.1 116.4C317.82 117.05 318.43 117.05 319.2 117.2C319.97 117.35 320.78 117.37 321.7 117.3C322.62 117.23 324.03 117.02 324.7 116.8C325.37 116.58 325.32 116.72 325.7 116C326.08 115.28 326.57 113.52 327 112.5C327.43 111.48 327.93 110.15 328.3 109.9C328.67 109.65 328.9 110.43 329.2 111C329.5 111.57 329.67 112.33 330.1 113.3C330.53 114.27 331 116.12 331.8 116.8C332.6 117.48 333.95 117.4 334.9 117.4C335.85 117.4 336.63 117.27 337.5 116.8C338.37 116.33 339.42 115.1 340.1 114.6C340.78 114.1 341.12 113.57 341.6 113.8C342.08 114.03 342.57 115.97 343 116C343.43 116.03 343.75 115.07 344.2 114C344.65 112.93 345.12 110.93 345.7 109.6C346.28 108.27 346.98 106.87 347.7 106C348.42 105.13 349.4 104.48 350 104.4C350.6 104.32 350.88 104.88 351.3 105.5C351.72 106.12 352.05 106.93 352.5 108.1C352.95 109.27 353.5 111.12 354 112.5C354.5 113.88 354.75 115.52 355.5 116.4C356.25 117.28 357.55 117.67 358.5 117.8C359.45 117.93 360.43 117.7 361.2 117.2C361.97 116.7 362.52 115.68 363.1 114.8C363.68 113.92 364.17 113.03 364.7 111.9C365.23 110.77 365.77 108.92 366.3 108C366.83 107.08 367.4 106.43 367.9 106.4C368.4 106.37 368.85 107.13 369.3 107.8C369.75 108.47 370.17 110.45 370.6 110.4C371.03 110.35 371.47 108.9 371.9 107.5C372.33 106.1 372.73 104 373.2 102C373.67 100 374.25 97 374.7 95.5C375.15 94 375.48 93.28 375.9 93C376.32 92.72 376.77 93.3 377.2 93.8C377.63 94.3 378.08 95.13 378.5 96C378.92 96.87 379.33 98 379.7 99C380.07 100 380.53 101.5 380.7 102" fill="none" stroke="#111" stroke-width="1.05" stroke-linejoin="round" stroke-linecap="round"/>
</g>
<path d="M285 25.2L293.1 29.8" stroke="#222" stroke-width="0.62" fill="none" stroke-linecap="round"/>
<path d="M293.1 29.8L293.1 39.4" stroke="#222" stroke-width="0.62" fill="none" stroke-linecap="round"/>
<path d="M276.5 29.8L285 25.2" stroke="#222" stroke-width="0.62" fill="none" stroke-linecap="round"/>
<path d="M276.5 39.4L276.5 29.8" stroke="#222" stroke-width="0.62" fill="none" stroke-linecap="round"/>
<path d="M293.1 39.4L287.06 42.82" stroke="#222" stroke-width="0.62" fill="none" stroke-linecap="round"/>
<path d="M282.54 42.82L276.5 39.4" stroke="#222" stroke-width="0.62" fill="none" stroke-linecap="round"/>
<text x="284.8" y="46.45" text-anchor="middle" font-size="6.6" fill="#222">N</text>
<path d="M276.5 39.4L267.58 43.01L268.82 45.19Z" fill="#111"/>
<path d="M293.1 29.8L301.38 25.95L300.02 23.85Z" fill="#111"/>
<path d="M300.7 24.9L306.29 28.3" stroke="#222" stroke-width="0.62" fill="none" stroke-linecap="round"/>
<text x="308.6" y="32.05" text-anchor="middle" font-size="6.6" fill="#222">O</text>
<path d="M310.95 28.36L316.5 25.2" stroke="#222" stroke-width="0.62" fill="none" stroke-linecap="round"/>
<path d="M316.5 25.2L322.53 28.54" stroke="#222" stroke-width="0.62" fill="none" stroke-linecap="round"/>
<path d="M318.28 24.47L323.08 27.13" stroke="#222" stroke-width="0.62" fill="none" stroke-linecap="round"/>
<path d="M327.08 28.55L333.2 25.2" stroke="#222" stroke-width="0.62" fill="none" stroke-linecap="round"/>
<path d="M333.2 25.2L333.2 15.5" stroke="#222" stroke-width="0.62" fill="none" stroke-linecap="round"/>
<path d="M331.7 24L331.7 16.7" stroke="#222" stroke-width="0.62" fill="none" stroke-linecap="round"/>
<path d="M333.2 15.5L324.8 10.9" stroke="#222" stroke-width="0.62" fill="none" stroke-linecap="round"/>
<path d="M324.8 10.9L316.5 15.5" stroke="#222" stroke-width="0.62" fill="none" stroke-linecap="round"/>
<path d="M324.48 12.79L318.28 16.23" stroke="#222" stroke-width="0.62" fill="none" stroke-linecap="round"/>
<path d="M316.5 15.5L316.5 25.2" stroke="#222" stroke-width="0.62" fill="none" stroke-linecap="round"/>
<path d="M333.2 15.5L338.94 11.65" stroke="#222" stroke-width="0.62" fill="none" stroke-linecap="round"/>
<text x="341.1" y="12.55" text-anchor="middle" font-size="6.6" fill="#222">F</text>
<path d="M284.8 47L284.8 53.5" stroke="#222" stroke-width="0.62" fill="none" stroke-linecap="round"/>
<path d="M284.8 53.5L279.06 56.69" stroke="#222" stroke-width="0.62" fill="none" stroke-linecap="round"/>
<path d="M283.79 52.35L278.31 55.39" stroke="#222" stroke-width="0.62" fill="none" stroke-linecap="round"/>
<text x="276.7" y="60.35" text-anchor="middle" font-size="6.6" fill="#222">O</text>
<path d="M284.8 53.5L293.1 58" stroke="#222" stroke-width="0.62" fill="none" stroke-linecap="round"/>
<path d="M293.1 58L301.3 53.4" stroke="#222" stroke-width="0.62" fill="none" stroke-linecap="round"/>
<path d="M294.88 58.72L300.99 55.3" stroke="#222" stroke-width="0.62" fill="none" stroke-linecap="round"/>
<path d="M301.3 53.4L309.4 58" stroke="#222" stroke-width="0.62" fill="none" stroke-linecap="round"/>
<path d="M309.4 58L309.4 67.6" stroke="#222" stroke-width="0.62" fill="none" stroke-linecap="round"/>
<path d="M307.9 59.2L307.9 66.4" stroke="#222" stroke-width="0.62" fill="none" stroke-linecap="round"/>
<path d="M309.4 67.6L301.3 72.3" stroke="#222" stroke-width="0.62" fill="none" stroke-linecap="round"/>
<path d="M301.3 72.3L293.1 67.6" stroke="#222" stroke-width="0.62" fill="none" stroke-linecap="round"/>
<path d="M301 70.4L294.89 66.9" stroke="#222" stroke-width="0.62" fill="none" stroke-linecap="round"/>
<path d="M293.1 67.6L293.1 58" stroke="#222" stroke-width="0.62" fill="none" stroke-linecap="round"/>
<path d="M309.4 58L316.7 53.5" stroke="#222" stroke-width="0.62" fill="none" stroke-linecap="round"/>
<path d="M293.1 67.6L284.9 72.3" stroke="#222" stroke-width="0.62" fill="none" stroke-linecap="round"/>
<path d="M284.9 72.3L278.68 68.86" stroke="#222" stroke-width="0.62" fill="none" stroke-linecap="round"/>
<path d="M283.12 73.03L278.12 70.27" stroke="#222" stroke-width="0.62" fill="none" stroke-linecap="round"/>
<path d="M274.15 68.9L268.3 72.3" stroke="#222" stroke-width="0.62" fill="none" stroke-linecap="round"/>
<path d="M268.3 72.3L268.3 81.7" stroke="#222" stroke-width="0.62" fill="none" stroke-linecap="round"/>
<path d="M269.8 73.5L269.8 80.5" stroke="#222" stroke-width="0.62" fill="none" stroke-linecap="round"/>
<path d="M268.3 81.7L276.4 86.4" stroke="#222" stroke-width="0.62" fill="none" stroke-linecap="round"/>
<path d="M276.4 86.4L282.6 83.12" stroke="#222" stroke-width="0.62" fill="none" stroke-linecap="round"/>
<path d="M276.76 84.51L281.72 81.88" stroke="#222" stroke-width="0.62" fill="none" stroke-linecap="round"/>
<path d="M284.9 79.1L284.9 72.3" stroke="#222" stroke-width="0.62" fill="none" stroke-linecap="round"/>
<text x="276.4" y="69.95" text-anchor="middle" font-size="6.6" fill="#222">N</text>
<text x="284.9" y="84.25" text-anchor="middle" font-size="6.6" fill="#222">N</text>
<text x="324.8" y="32.15" text-anchor="middle" font-size="6.6" fill="#222">N</text>
<rect x="223.7" y="1.7" width="156.8" height="116.8" fill="none" stroke="#444" stroke-width="0.55"/>
<path d="M374.23 118.5v-1.2M374.23 1.7v1.2M367.96 118.5v-1.2M367.96 1.7v1.2M361.68 118.5v-1.2M361.68 1.7v1.2M355.41 118.5v-1.2M355.41 1.7v1.2M349.14 118.5v-2.4M349.14 1.7v2.4M342.87 118.5v-1.2M342.87 1.7v1.2M336.6 118.5v-1.2M336.6 1.7v1.2M330.32 118.5v-1.2M330.32 1.7v1.2M324.05 118.5v-1.2M324.05 1.7v1.2M317.78 118.5v-2.4M317.78 1.7v2.4M311.51 118.5v-1.2M311.51 1.7v1.2M305.24 118.5v-1.2M305.24 1.7v1.2M298.96 118.5v-1.2M298.96 1.7v1.2M292.69 118.5v-1.2M292.69 1.7v1.2M286.42 118.5v-2.4M286.42 1.7v2.4M280.15 118.5v-1.2M280.15 1.7v1.2M273.88 118.5v-1.2M273.88 1.7v1.2M267.6 118.5v-1.2M267.6 1.7v1.2M261.33 118.5v-1.2M261.33 1.7v1.2M255.06 118.5v-2.4M255.06 1.7v2.4M248.79 118.5v-1.2M248.79 1.7v1.2M242.52 118.5v-1.2M242.52 1.7v1.2M236.24 118.5v-1.2M236.24 1.7v1.2M229.97 118.5v-1.2M229.97 1.7v1.2M223.7 95.64h2.4M380.5 95.64h-2.4M223.7 72.78h2.4M380.5 72.78h-2.4M223.7 49.92h2.4M380.5 49.92h-2.4M223.7 27.06h2.4M380.5 27.06h-2.4M223.7 4.2h2.4M380.5 4.2h-2.4M223.7 112.78h1.2M380.5 112.78h-1.2M223.7 107.07h1.2M380.5 107.07h-1.2M223.7 101.36h1.2M380.5 101.36h-1.2M223.7 89.92h1.2M380.5 89.92h-1.2M223.7 84.21h1.2M380.5 84.21h-1.2M223.7 78.5h1.2M380.5 78.5h-1.2M223.7 67.06h1.2M380.5 67.06h-1.2M223.7 61.35h1.2M380.5 61.35h-1.2M223.7 55.63h1.2M380.5 55.63h-1.2M223.7 44.2h1.2M380.5 44.2h-1.2M223.7 38.49h1.2M380.5 38.49h-1.2M223.7 32.78h1.2M380.5 32.78h-1.2M223.7 21.34h1.2M380.5 21.34h-1.2M223.7 15.63h1.2M380.5 15.63h-1.2M223.7 9.92h1.2M380.5 9.92h-1.2" stroke="#444" stroke-width="0.55" fill="none"/>
<text x="380.5" y="126.1" text-anchor="middle">1000</text>
<text x="349.14" y="126.1" text-anchor="middle">1100</text>
<text x="317.78" y="126.1" text-anchor="middle">1200</text>
<text x="286.42" y="126.1" text-anchor="middle">1300</text>
<text x="255.06" y="126.1" text-anchor="middle">1400</text>
<text x="223.7" y="126.1" text-anchor="middle">1500</text>
<text x="220.8" y="120.6" text-anchor="end">0.0</text>
<text x="220.8" y="97.74" text-anchor="end">0.2</text>
<text x="220.8" y="74.88" text-anchor="end">0.4</text>
<text x="220.8" y="52.02" text-anchor="end">0.6</text>
<text x="220.8" y="29.16" text-anchor="end">0.8</text>
<text x="220.8" y="6.3" text-anchor="end">1.0</text>
<text x="290.6" y="134.8"><tspan font-style="italic">ν̃</tspan></text>
<text x="295.7" y="134.8">/</text>
<text x="298.4" y="134.8">cm</text>
<text x="308.1" y="133.1" font-size="4.6">−</text>
<text x="311.2" y="133.1" font-size="4.6">1</text>
<text transform="translate(208.4 60.1) rotate(-90)" text-anchor="middle"><tspan font-style="italic">I</tspan> / a.u.</text>
<g clip-path="url(#c3)">
<path d="M30 200C30.17 199 30.73 195.67 31 194C31.27 192.33 31.38 191.17 31.6 190C31.82 188.83 32.07 185.33 32.3 187C32.53 188.67 32.77 194.67 33 200C33.23 205.33 33.45 218.17 33.7 219C33.95 219.83 34.27 209.33 34.5 205C34.73 200.67 34.88 195.33 35.1 193C35.32 190.67 35.55 191.38 35.8 191C36.05 190.62 36.23 190.37 36.6 190.7C36.97 191.03 37.55 191.95 38 193C38.45 194.05 38.95 195.33 39.3 197C39.65 198.67 39.8 202.5 40.1 203C40.4 203.5 40.78 199.5 41.1 200C41.42 200.5 41.72 203.67 42 206C42.28 208.33 42.52 213.5 42.8 214C43.08 214.5 43.4 210.58 43.7 209C44 207.42 44.3 204.5 44.6 204.5C44.9 204.5 45.2 207.25 45.5 209C45.8 210.75 46.12 212.17 46.4 215C46.68 217.83 46.93 222.17 47.2 226C47.47 229.83 47.7 234 48 238C48.3 242 48.65 246.6 49 250C49.35 253.4 49.78 258.4 50.1 258.4C50.42 258.4 50.65 253.73 50.9 250C51.15 246.27 51.32 240.83 51.6 236C51.88 231.17 52.3 227.67 52.6 221C52.9 214.33 53.08 204.5 53.4 196C53.72 187.5 54.13 178 54.5 170C54.87 162 55.27 148.83 55.6 148C55.93 147.17 56.22 158.5 56.5 165C56.78 171.5 56.93 182.12 57.3 187C57.67 191.88 58.33 193.3 58.7 194.3C59.07 195.3 59.2 192.72 59.5 193C59.8 193.28 60.15 195.07 60.5 196C60.85 196.93 61.07 197.43 61.6 198.6C62.13 199.77 63.13 201.93 63.7 203C64.27 204.07 64.67 203.83 65 205C65.33 206.17 65.48 208.22 65.7 210C65.92 211.78 66.1 215.7 66.3 215.7C66.5 215.7 66.7 212.62 66.9 210C67.1 207.38 67.08 205 67.5 200C67.92 195 68.82 185.67 69.4 180C69.98 174.33 70.52 169.35 71 166C71.48 162.65 71.85 159.23 72.3 159.9C72.75 160.57 73.23 165.48 73.7 170C74.17 174.52 74.62 180.33 75.1 187C75.58 193.67 76.2 203.17 76.6 210C77 216.83 77.22 222.67 77.5 228C77.78 233.33 78.1 238.4 78.3 242C78.5 245.6 78.55 249.93 78.7 249.6C78.85 249.27 78.98 245.6 79.2 240C79.42 234.4 79.7 221.83 80 216C80.3 210.17 80.6 208.1 81 205C81.4 201.9 81.8 200.8 82.4 197.4C83 194 84.08 187.5 84.6 184.6C85.12 181.7 85.22 181.08 85.5 180C85.78 178.92 86.03 177.93 86.3 178.1C86.57 178.27 86.8 179.45 87.1 181C87.4 182.55 87.57 184.42 88.1 187.4C88.63 190.38 89.77 195.8 90.3 198.9C90.83 202 91 203.87 91.3 206C91.6 208.13 91.85 211.87 92.1 211.7C92.35 211.53 92.58 207.38 92.8 205C93.02 202.62 93.17 199.73 93.4 197.4C93.63 195.07 93.95 192.42 94.2 191C94.45 189.58 94.6 188.98 94.9 188.9C95.2 188.82 95.63 189.8 96 190.5C96.37 191.2 96.72 193.52 97.1 193.1C97.48 192.68 97.88 189.9 98.3 188C98.72 186.1 99.15 183.47 99.6 181.7C100.05 179.93 100.57 177.43 101 177.4C101.43 177.37 101.88 180.3 102.2 181.5C102.52 182.7 102.67 183.85 102.9 184.6C103.13 185.35 103.28 185.93 103.6 186C103.92 186.07 104.4 185.23 104.8 185C105.2 184.77 105.67 184.27 106 184.6C106.33 184.93 106.57 186.05 106.8 187C107.03 187.95 107.2 189.83 107.4 190.3C107.6 190.77 107.8 189.92 108 189.8C108.2 189.68 108.4 189.07 108.6 189.6C108.8 190.13 109.03 191.7 109.2 193C109.37 194.3 109.42 197.15 109.6 197.4C109.78 197.65 110.07 195.33 110.3 194.5C110.53 193.67 110.72 192.07 111 192.4C111.28 192.73 111.68 194.95 112 196.5C112.32 198.05 112.35 200.12 112.9 201.7C113.45 203.28 114.67 204.28 115.3 206C115.93 207.72 116.23 208.77 116.7 212C117.17 215.23 117.62 220.07 118.1 225.4C118.58 230.73 119.23 240.15 119.6 244C119.97 247.85 120.07 247.52 120.3 248.5C120.53 249.48 120.77 249.9 121 249.9C121.23 249.9 121.47 249.48 121.7 248.5C121.93 247.52 122.13 247.08 122.4 244C122.67 240.92 122.93 234.28 123.3 230C123.67 225.72 124.27 222.63 124.6 218.3C124.93 213.97 125.02 207.38 125.3 204C125.58 200.62 125.95 199.57 126.3 198C126.65 196.43 126.85 195.88 127.4 194.6C127.95 193.32 128.88 192.23 129.6 190.3C130.32 188.37 131.2 184.88 131.7 183C132.2 181.12 132.32 179.85 132.6 179C132.88 178.15 133.13 177.4 133.4 177.9C133.67 178.4 133.95 180.22 134.2 182C134.45 183.78 134.6 185.93 134.9 188.6C135.2 191.27 135.65 194.67 136 198C136.35 201.33 136.7 204.1 137 208.6C137.3 213.1 137.58 219.85 137.8 225C138.02 230.15 138.12 239.5 138.3 239.5C138.48 239.5 138.67 229.75 138.9 225C139.13 220.25 139.42 214.93 139.7 211C139.98 207.07 140.22 205.13 140.6 201.4C140.98 197.67 141.52 190.92 142 188.6C142.48 186.28 143.02 187.77 143.5 187.5C143.98 187.23 144.55 187.75 144.9 187C145.25 186.25 145.37 185 145.6 183C145.83 181 146.09 178.83 146.3 175C146.51 171.17 146.68 164.03 146.85 160C147.02 155.97 147.14 151.3 147.3 150.8C147.46 150.3 147.62 154.63 147.8 157C147.98 159.37 148.18 162.17 148.4 165C148.62 167.83 148.9 171.83 149.1 174C149.3 176.17 149.38 178.33 149.6 178C149.82 177.67 150.12 173.55 150.4 172C150.68 170.45 151.03 168.53 151.3 168.7C151.57 168.87 151.77 171.12 152 173C152.23 174.88 152.42 178.08 152.7 180C152.98 181.92 153.33 183.33 153.7 184.5C154.07 185.67 154.35 185.97 154.9 187C155.45 188.03 156.4 190.23 157 190.7C157.6 191.17 158.02 190.03 158.5 189.8C158.98 189.57 159.43 189.18 159.9 189.3C160.37 189.42 160.83 190.05 161.3 190.5C161.77 190.95 161.98 191.33 162.7 192C163.42 192.67 164.88 194.42 165.6 194.5C166.32 194.58 166.53 193.42 167 192.5C167.47 191.58 167.98 190.5 168.4 189C168.82 187.5 169.17 184.83 169.5 183.5C169.83 182.17 170.1 180.83 170.4 181C170.7 181.17 171 183.1 171.3 184.5C171.6 185.9 171.92 188.85 172.2 189.4C172.48 189.95 172.75 188.2 173 187.8C173.25 187.4 173.43 186.72 173.7 187C173.97 187.28 174.3 188.5 174.6 189.5C174.9 190.5 174.87 191.78 175.5 193C176.13 194.22 177.68 196.05 178.4 196.8C179.12 197.55 179.45 196.97 179.8 197.5C180.15 198.03 180.3 198.8 180.5 200C180.7 201.2 180.83 203.08 181 204.7C181.17 206.32 181.32 209.65 181.5 209.7C181.68 209.75 181.9 206.55 182.1 205C182.3 203.45 182.48 201.82 182.7 200.4C182.92 198.98 183.17 197.45 183.4 196.5C183.63 195.55 183.8 194.83 184.1 194.7C184.4 194.57 184.83 195.23 185.2 195.7C185.57 196.17 186 197.12 186.3 197.5C186.6 197.88 186.88 197.92 187 198" fill="none" stroke="#111" stroke-width="1.05" stroke-linejoin="round" stroke-linecap="round"/>
<path d="M30 203C30.33 201.67 31.33 197.67 32 195C32.67 192.33 33.5 188.67 34 187C34.5 185.33 34.68 185.45 35 185C35.32 184.55 35.57 183.8 35.9 184.3C36.23 184.8 36.65 186.05 37 188C37.35 189.95 37.72 193 38 196C38.28 199 38.47 202.43 38.7 206C38.93 209.57 39.15 214.07 39.4 217.4C39.65 220.73 39.92 223.82 40.2 226C40.48 228.18 40.75 230.25 41.1 230.5C41.45 230.75 41.87 228.45 42.3 227.5C42.73 226.55 42.98 226 43.7 224.8C44.42 223.6 45.65 222.72 46.6 220.3C47.55 217.88 48.57 213.18 49.4 210.3C50.23 207.42 51 206.05 51.6 203C52.2 199.95 52.65 196.17 53 192C53.35 187.83 53.45 182.83 53.7 178C53.95 173.17 54.23 166.5 54.5 163C54.77 159.5 55.03 157.33 55.3 157C55.57 156.67 55.82 158.83 56.1 161C56.38 163.17 56.57 165.67 57 170C57.43 174.33 58.05 182.23 58.7 187C59.35 191.77 60.18 195.93 60.9 198.6C61.62 201.27 62.3 201.82 63 203C63.7 204.18 64.5 204.37 65.1 205.7C65.7 207.03 66.12 209.45 66.6 211C67.08 212.55 67.52 214.75 68 215C68.48 215.25 69.02 213.52 69.5 212.5C69.98 211.48 70.45 209.82 70.9 208.9C71.35 207.98 71.78 207.37 72.2 207C72.62 206.63 73 206.4 73.4 206.7C73.8 207 74.18 207.75 74.6 208.8C75.02 209.85 75.5 211.47 75.9 213C76.3 214.53 76.65 216.07 77 218C77.35 219.93 77.65 222.32 78 224.6C78.35 226.88 78.77 231.47 79.1 231.7C79.43 231.93 79.7 228.38 80 226C80.3 223.62 80.62 220.73 80.9 217.4C81.18 214.07 81.43 209.73 81.7 206C81.97 202.27 82.1 199.17 82.5 195C82.9 190.83 83.7 184.17 84.1 181C84.5 177.83 84.67 177.07 84.9 176C85.13 174.93 85.3 174.52 85.5 174.6C85.7 174.68 85.92 175.77 86.1 176.5C86.28 177.23 86.37 178.75 86.6 179C86.83 179.25 87.2 178.55 87.5 178C87.8 177.45 88.07 177.87 88.4 175.7C88.73 173.53 89.12 169.45 89.5 165C89.88 160.55 90.33 152.48 90.7 149C91.07 145.52 91.43 144.27 91.7 144.1C91.97 143.93 92.1 145.97 92.3 148C92.5 150.03 92.63 152.53 92.9 156.3C93.17 160.07 93.62 166.32 93.9 170.6C94.18 174.88 94.25 176.43 94.6 182C94.95 187.57 95.28 198.43 96 204C96.72 209.57 97.95 210.63 98.9 215.4C99.85 220.17 101.03 229.03 101.7 232.6C102.37 236.17 102.53 235.85 102.9 236.8C103.27 237.75 103.57 238.77 103.9 238.3C104.23 237.83 104.55 236.15 104.9 234C105.25 231.85 105.47 228.5 106 225.4C106.53 222.3 107.58 217.35 108.1 215.4C108.62 213.45 108.78 214.05 109.1 213.7C109.42 213.35 109.65 212.92 110 213.3C110.35 213.68 110.8 214.72 111.2 216C111.6 217.28 111.83 218.23 112.4 221C112.97 223.77 114.1 229.85 114.6 232.6C115.1 235.35 115.17 236.35 115.4 237.5C115.63 238.65 115.77 239.75 116 239.5C116.23 239.25 116.45 238.35 116.8 236C117.15 233.65 117.75 230.73 118.1 225.4C118.45 220.07 118.67 209.9 118.9 204C119.13 198.1 119.3 194.17 119.5 190C119.7 185.83 119.9 181.4 120.1 179C120.3 176.6 120.48 175.43 120.7 175.6C120.92 175.77 121.15 178.1 121.4 180C121.65 181.9 121.77 184.42 122.2 187C122.63 189.58 123.28 193.42 124 195.5C124.72 197.58 125.67 199.03 126.5 199.5C127.33 199.97 128.25 199.02 129 198.3C129.75 197.58 130.4 196.25 131 195.2C131.6 194.15 132.13 192.7 132.6 192C133.07 191.3 133.43 190.75 133.8 191C134.17 191.25 134.48 192 134.8 193.5C135.12 195 135.4 197.75 135.7 200C136 202.25 136.3 204.83 136.6 207C136.9 209.17 137.2 211.42 137.5 213C137.8 214.58 138.12 215.75 138.4 216.5C138.68 217.25 138.9 217.75 139.2 217.5C139.5 217.25 139.68 216.92 140.2 215C140.72 213.08 141.47 208.67 142.3 206C143.13 203.33 144.33 201.33 145.2 199C146.07 196.67 146.73 194.93 147.5 192C148.27 189.07 149.18 184.57 149.8 181.4C150.42 178.23 150.78 175.02 151.2 173C151.62 170.98 151.97 169.22 152.3 169.3C152.63 169.38 152.92 171.72 153.2 173.5C153.48 175.28 153.53 177.48 154 180C154.47 182.52 155.33 186.27 156 188.6C156.67 190.93 157.17 192.43 158 194C158.83 195.57 159.92 197.08 161 198C162.08 198.92 163.33 199.5 164.5 199.5C165.67 199.5 166.92 199 168 198C169.08 197 170.25 195.33 171 193.5C171.75 191.67 172.13 189.25 172.5 187C172.87 184.75 173 182 173.2 180C173.4 178 173.55 176.07 173.7 175C173.85 173.93 173.95 173.52 174.1 173.6C174.25 173.68 174.42 174.43 174.6 175.5C174.78 176.57 174.88 177.35 175.2 180C175.52 182.65 175.97 188.3 176.5 191.4C177.03 194.5 177.85 196 178.4 198.6C178.95 201.2 179.38 204.98 179.8 207C180.22 209.02 180.57 210.62 180.9 210.7C181.23 210.78 181.53 208.62 181.8 207.5C182.07 206.38 182.05 205.17 182.5 204C182.95 202.83 183.75 201.05 184.5 200.5C185.25 199.95 186.58 200.67 187 200.7" fill="none" stroke="#ff2020" stroke-width="1.2" stroke-linejoin="round" stroke-linecap="round"/>
<path d="M30 201.4C30.17 200.5 30.67 197.9 31 196C31.33 194.1 31.67 191.7 32 190C32.33 188.3 32.67 186.75 33 185.8C33.33 184.85 33.62 183.93 34 184.3C34.38 184.67 34.87 185.88 35.3 188C35.73 190.12 36.3 194 36.6 197C36.9 200 36.95 203 37.1 206C37.25 209 37.33 211.83 37.5 215C37.67 218.17 37.9 222.67 38.1 225C38.3 227.33 38.48 228.58 38.7 229C38.92 229.42 39.18 228.33 39.4 227.5C39.62 226.67 39.75 225.2 40 224C40.25 222.8 40.4 221.87 40.9 220.3C41.4 218.73 42.3 216.03 43 214.6C43.7 213.17 44.52 211.8 45.1 211.7C45.68 211.6 46.08 213.53 46.5 214C46.92 214.47 47.15 214.92 47.6 214.5C48.05 214.08 48.65 212.68 49.2 211.5C49.75 210.32 50.27 209.98 50.9 207.4C51.53 204.82 52.4 200.57 53 196C53.6 191.43 54.03 185.67 54.5 180C54.97 174.33 55.48 166.17 55.8 162C56.12 157.83 56.22 156.43 56.4 155C56.58 153.57 56.73 152.57 56.9 153.4C57.07 154.23 57.22 154.4 57.4 160C57.58 165.6 57.55 180.1 58 187C58.45 193.9 59.38 196.33 60.1 201.4C60.82 206.47 61.78 213.13 62.3 217.4C62.82 221.67 62.92 224.73 63.2 227C63.48 229.27 63.72 231.17 64 231C64.28 230.83 64.58 228.27 64.9 226C65.22 223.73 65.43 221.73 65.9 217.4C66.37 213.07 67.33 204.23 67.7 200C68.07 195.77 67.97 193.87 68.1 192C68.23 190.13 68.3 189.05 68.5 188.8C68.7 188.55 69 189.3 69.3 190.5C69.6 191.7 69.88 194.17 70.3 196C70.72 197.83 71.3 199.7 71.8 201.5C72.3 203.3 72.77 204.72 73.3 206.8C73.83 208.88 74.55 211.72 75 214C75.45 216.28 75.75 218.17 76 220.5C76.25 222.83 76.35 225.85 76.5 228C76.65 230.15 76.75 233.4 76.9 233.4C77.05 233.4 77.23 230.23 77.4 228C77.57 225.77 77.7 223.33 77.9 220C78.1 216.67 78.35 212 78.6 208C78.85 204 79.08 199.75 79.4 196C79.72 192.25 80.15 188.5 80.5 185.5C80.85 182.5 81.2 179.92 81.5 178C81.8 176.08 82.08 174.92 82.3 174C82.52 173.08 82.62 172.42 82.8 172.5C82.98 172.58 83.18 173.5 83.4 174.5C83.62 175.5 83.83 177.95 84.1 178.5C84.37 179.05 84.73 178.27 85 177.8C85.27 177.33 85.4 177.83 85.7 175.7C86 173.57 86.48 168.62 86.8 165C87.12 161.38 87.35 157.08 87.6 154C87.85 150.92 88.08 148.15 88.3 146.5C88.52 144.85 88.72 143.85 88.9 144.1C89.08 144.35 89.22 145.35 89.4 148C89.58 150.65 89.72 154.5 90 160C90.28 165.5 90.73 175.17 91.1 181C91.47 186.83 91.62 191.17 92.2 195C92.78 198.83 93.73 200.12 94.6 204C95.47 207.88 96.57 214.02 97.4 218.3C98.23 222.58 98.97 226.83 99.6 229.7C100.23 232.57 100.73 234.18 101.2 235.5C101.67 236.82 102.02 237.85 102.4 237.6C102.78 237.35 103.13 236.03 103.5 234C103.87 231.97 104.07 229.23 104.6 225.4C105.13 221.57 106.18 213.68 106.7 211C107.22 208.32 107.38 209.63 107.7 209.3C108.02 208.97 108.25 208.72 108.6 209C108.95 209.28 109.4 209.93 109.8 211C110.2 212.07 110.32 211.8 111 215.4C111.68 219 113.15 228.87 113.9 232.6C114.65 236.33 115.03 236.65 115.5 237.8C115.97 238.95 116.35 239.97 116.7 239.5C117.05 239.03 117.3 237.42 117.6 235C117.9 232.58 118.22 230.17 118.5 225C118.78 219.83 119.05 210.17 119.3 204C119.55 197.83 119.8 192.33 120 188C120.2 183.67 120.33 180.17 120.5 178C120.67 175.83 120.83 174.92 121 175C121.17 175.08 121.33 176.67 121.5 178.5C121.67 180.33 121.58 183.25 122 186C122.42 188.75 123.25 192.75 124 195C124.75 197.25 125.67 199 126.5 199.5C127.33 200 128.25 198.78 129 198C129.75 197.22 130.4 195.87 131 194.8C131.6 193.73 132.13 192.3 132.6 191.6C133.07 190.9 133.43 190.37 133.8 190.6C134.17 190.83 134.47 191.6 134.8 193C135.13 194.4 135.48 196.83 135.8 199C136.12 201.17 136.38 203.68 136.7 206C137.02 208.32 137.38 211.23 137.7 212.9C138.02 214.57 138.32 215.32 138.6 216C138.88 216.68 139.08 217.5 139.4 217C139.72 216.5 140.07 214.88 140.5 213C140.93 211.12 141.27 208.1 142 205.7C142.73 203.3 144.07 200.98 144.9 198.6C145.73 196.22 146.3 194.27 147 191.4C147.7 188.53 148.55 184.3 149.1 181.4C149.65 178.5 149.93 175.67 150.3 174C150.67 172.33 150.97 171.32 151.3 171.4C151.63 171.48 151.95 173.07 152.3 174.5C152.65 175.93 152.85 177.65 153.4 180C153.95 182.35 154.88 186.33 155.6 188.6C156.32 190.87 156.87 192.2 157.7 193.6C158.53 195 159.53 196.17 160.6 197C161.67 197.83 162.92 198.6 164.1 198.6C165.28 198.6 166.62 197.95 167.7 197C168.78 196.05 169.88 194.57 170.6 192.9C171.32 191.23 171.65 189.15 172 187C172.35 184.85 172.5 182.17 172.7 180C172.9 177.83 173.03 175.43 173.2 174C173.37 172.57 173.53 171.4 173.7 171.4C173.87 171.4 174 172.57 174.2 174C174.4 175.43 174.55 177.1 174.9 180C175.25 182.9 175.72 188.3 176.3 191.4C176.88 194.5 177.8 195.73 178.4 198.6C179 201.47 179.53 206.48 179.9 208.6C180.27 210.72 180.37 210.73 180.6 211.3C180.83 211.87 181.07 212.38 181.3 212C181.53 211.62 181.77 210.28 182 209C182.23 207.72 182.22 205.8 182.7 204.3C183.18 202.8 184.18 200.6 184.9 200C185.62 199.4 186.65 200.58 187 200.7" fill="none" stroke="#ffa000" stroke-width="1.2" stroke-linejoin="round" stroke-linecap="round"/>
</g>
<rect x="30" y="143.6" width="156.8" height="117.1" fill="none" stroke="#444" stroke-width="0.55"/>
<path d="M180.53 260.7v-1.2M180.53 143.6v1.2M174.26 260.7v-1.2M174.26 143.6v1.2M167.98 260.7v-1.2M167.98 143.6v1.2M161.71 260.7v-1.2M161.71 143.6v1.2M155.44 260.7v-2.4M155.44 143.6v2.4M149.17 260.7v-1.2M149.17 143.6v1.2M142.9 260.7v-1.2M142.9 143.6v1.2M136.62 260.7v-1.2M136.62 143.6v1.2M130.35 260.7v-1.2M130.35 143.6v1.2M124.08 260.7v-2.4M124.08 143.6v2.4M117.81 260.7v-1.2M117.81 143.6v1.2M111.54 260.7v-1.2M111.54 143.6v1.2M105.26 260.7v-1.2M105.26 143.6v1.2M98.99 260.7v-1.2M98.99 143.6v1.2M92.72 260.7v-2.4M92.72 143.6v2.4M86.45 260.7v-1.2M86.45 143.6v1.2M80.18 260.7v-1.2M80.18 143.6v1.2M73.9 260.7v-1.2M73.9 143.6v1.2M67.63 260.7v-1.2M67.63 143.6v1.2M61.36 260.7v-2.4M61.36 143.6v2.4M55.09 260.7v-1.2M55.09 143.6v1.2M48.82 260.7v-1.2M48.82 143.6v1.2M42.54 260.7v-1.2M42.54 143.6v1.2M36.27 260.7v-1.2M36.27 143.6v1.2M30 259.1h2.4M186.8 259.1h-2.4M30 244.78h2.4M186.8 244.78h-2.4M30 230.45h2.4M186.8 230.45h-2.4M30 216.12h2.4M186.8 216.12h-2.4M30 201.8h2.4M186.8 201.8h-2.4M30 187.48h2.4M186.8 187.48h-2.4M30 173.15h2.4M186.8 173.15h-2.4M30 158.83h2.4M186.8 158.83h-2.4M30 144.5h2.4M186.8 144.5h-2.4M30 256.24h1.2M186.8 256.24h-1.2M30 253.37h1.2M186.8 253.37h-1.2M30 250.5h1.2M186.8 250.5h-1.2M30 247.64h1.2M186.8 247.64h-1.2M30 241.91h1.2M186.8 241.91h-1.2M30 239.05h1.2M186.8 239.05h-1.2M30 236.18h1.2M186.8 236.18h-1.2M30 233.31h1.2M186.8 233.31h-1.2M30 227.59h1.2M186.8 227.59h-1.2M30 224.72h1.2M186.8 224.72h-1.2M30 221.86h1.2M186.8 221.86h-1.2M30 218.99h1.2M186.8 218.99h-1.2M30 213.26h1.2M186.8 213.26h-1.2M30 210.4h1.2M186.8 210.4h-1.2M30 207.53h1.2M186.8 207.53h-1.2M30 204.67h1.2M186.8 204.67h-1.2M30 198.94h1.2M186.8 198.94h-1.2M30 196.07h1.2M186.8 196.07h-1.2M30 193.21h1.2M186.8 193.21h-1.2M30 190.34h1.2M186.8 190.34h-1.2M30 184.61h1.2M186.8 184.61h-1.2M30 181.75h1.2M186.8 181.75h-1.2M30 178.88h1.2M186.8 178.88h-1.2M30 176.02h1.2M186.8 176.02h-1.2M30 170.29h1.2M186.8 170.29h-1.2M30 167.42h1.2M186.8 167.42h-1.2M30 164.56h1.2M186.8 164.56h-1.2M30 161.69h1.2M186.8 161.69h-1.2M30 155.96h1.2M186.8 155.96h-1.2M30 153.1h1.2M186.8 153.1h-1.2M30 150.23h1.2M186.8 150.23h-1.2M30 147.37h1.2M186.8 147.37h-1.2" stroke="#444" stroke-width="0.55" fill="none"/>
<text x="186.8" y="268.3" text-anchor="middle">1000</text>
<text x="155.44" y="268.3" text-anchor="middle">1100</text>
<text x="124.08" y="268.3" text-anchor="middle">1200</text>
<text x="92.72" y="268.3" text-anchor="middle">1300</text>
<text x="61.36" y="268.3" text-anchor="middle">1400</text>
<text x="30" y="268.3" text-anchor="middle">1500</text>
<text x="27.1" y="261.2" text-anchor="end">−1.00</text>
<text x="27.1" y="246.88" text-anchor="end">−0.75</text>
<text x="27.1" y="232.55" text-anchor="end">−0.50</text>
<text x="27.1" y="218.22" text-anchor="end">−0.25</text>
<text x="27.1" y="203.9" text-anchor="end">0.00</text>
<text x="27.1" y="189.58" text-anchor="end">0.25</text>
<text x="27.1" y="175.25" text-anchor="end">0.50</text>
<text x="27.1" y="160.93" text-anchor="end">0.75</text>
<text x="27.1" y="146.6" text-anchor="end">1.00</text>
<text x="96.9" y="277.7"><tspan font-style="italic">ν̃</tspan></text>
<text x="102" y="277.7">/</text>
<text x="104.7" y="277.7">cm</text>
<text x="114.4" y="276" font-size="4.6">−</text>
<text x="117.5" y="276" font-size="4.6">1</text>
<text transform="translate(5.9 202.15) rotate(-90)" text-anchor="middle"><tspan font-style="italic">I</tspan> / a.u.</text>
<g clip-path="url(#c4)">
<path d="M228 200C228.17 199 228.73 195.67 229 194C229.27 192.33 229.38 191.17 229.6 190C229.82 188.83 230.07 185.33 230.3 187C230.53 188.67 230.77 194.67 231 200C231.23 205.33 231.45 218.17 231.7 219C231.95 219.83 232.27 209.33 232.5 205C232.73 200.67 232.88 195.33 233.1 193C233.32 190.67 233.55 191.38 233.8 191C234.05 190.62 234.23 190.37 234.6 190.7C234.97 191.03 235.55 191.95 236 193C236.45 194.05 236.95 195.33 237.3 197C237.65 198.67 237.8 202.5 238.1 203C238.4 203.5 238.78 199.5 239.1 200C239.42 200.5 239.72 203.67 240 206C240.28 208.33 240.52 213.5 240.8 214C241.08 214.5 241.4 210.58 241.7 209C242 207.42 242.3 204.5 242.6 204.5C242.9 204.5 243.2 207.25 243.5 209C243.8 210.75 244.12 212.17 244.4 215C244.68 217.83 244.93 222.17 245.2 226C245.47 229.83 245.7 234 246 238C246.3 242 246.65 246.6 247 250C247.35 253.4 247.78 258.4 248.1 258.4C248.42 258.4 248.65 253.73 248.9 250C249.15 246.27 249.32 240.83 249.6 236C249.88 231.17 250.3 227.67 250.6 221C250.9 214.33 251.08 204.5 251.4 196C251.72 187.5 252.13 178 252.5 170C252.87 162 253.27 148.83 253.6 148C253.93 147.17 254.22 158.5 254.5 165C254.78 171.5 254.93 182.12 255.3 187C255.67 191.88 256.33 193.3 256.7 194.3C257.07 195.3 257.2 192.72 257.5 193C257.8 193.28 258.15 195.07 258.5 196C258.85 196.93 259.07 197.43 259.6 198.6C260.13 199.77 261.13 201.93 261.7 203C262.27 204.07 262.67 203.83 263 205C263.33 206.17 263.48 208.22 263.7 210C263.92 211.78 264.1 215.7 264.3 215.7C264.5 215.7 264.7 212.62 264.9 210C265.1 207.38 265.08 205 265.5 200C265.92 195 266.82 185.67 267.4 180C267.98 174.33 268.52 169.35 269 166C269.48 162.65 269.85 159.23 270.3 159.9C270.75 160.57 271.23 165.48 271.7 170C272.17 174.52 272.62 180.33 273.1 187C273.58 193.67 274.2 203.17 274.6 210C275 216.83 275.22 222.67 275.5 228C275.78 233.33 276.1 238.4 276.3 242C276.5 245.6 276.55 249.93 276.7 249.6C276.85 249.27 276.98 245.6 277.2 240C277.42 234.4 277.7 221.83 278 216C278.3 210.17 278.6 208.1 279 205C279.4 201.9 279.8 200.8 280.4 197.4C281 194 282.08 187.5 282.6 184.6C283.12 181.7 283.22 181.08 283.5 180C283.78 178.92 284.03 177.93 284.3 178.1C284.57 178.27 284.8 179.45 285.1 181C285.4 182.55 285.57 184.42 286.1 187.4C286.63 190.38 287.77 195.8 288.3 198.9C288.83 202 289 203.87 289.3 206C289.6 208.13 289.85 211.87 290.1 211.7C290.35 211.53 290.58 207.38 290.8 205C291.02 202.62 291.17 199.73 291.4 197.4C291.63 195.07 291.95 192.42 292.2 191C292.45 189.58 292.6 188.98 292.9 188.9C293.2 188.82 293.63 189.8 294 190.5C294.37 191.2 294.72 193.52 295.1 193.1C295.48 192.68 295.88 189.9 296.3 188C296.72 186.1 297.15 183.47 297.6 181.7C298.05 179.93 298.57 177.43 299 177.4C299.43 177.37 299.88 180.3 300.2 181.5C300.52 182.7 300.67 183.85 300.9 184.6C301.13 185.35 301.28 185.93 301.6 186C301.92 186.07 302.4 185.23 302.8 185C303.2 184.77 303.67 184.27 304 184.6C304.33 184.93 304.57 186.05 304.8 187C305.03 187.95 305.2 189.83 305.4 190.3C305.6 190.77 305.8 189.92 306 189.8C306.2 189.68 306.4 189.07 306.6 189.6C306.8 190.13 307.03 191.7 307.2 193C307.37 194.3 307.42 197.15 307.6 197.4C307.78 197.65 308.07 195.33 308.3 194.5C308.53 193.67 308.72 192.07 309 192.4C309.28 192.73 309.68 194.95 310 196.5C310.32 198.05 310.35 200.12 310.9 201.7C311.45 203.28 312.67 204.28 313.3 206C313.93 207.72 314.23 208.77 314.7 212C315.17 215.23 315.62 220.07 316.1 225.4C316.58 230.73 317.23 240.15 317.6 244C317.97 247.85 318.07 247.52 318.3 248.5C318.53 249.48 318.77 249.9 319 249.9C319.23 249.9 319.47 249.48 319.7 248.5C319.93 247.52 320.13 247.08 320.4 244C320.67 240.92 320.93 234.28 321.3 230C321.67 225.72 322.27 222.63 322.6 218.3C322.93 213.97 323.02 207.38 323.3 204C323.58 200.62 323.95 199.57 324.3 198C324.65 196.43 324.85 195.88 325.4 194.6C325.95 193.32 326.88 192.23 327.6 190.3C328.32 188.37 329.2 184.88 329.7 183C330.2 181.12 330.32 179.85 330.6 179C330.88 178.15 331.13 177.4 331.4 177.9C331.67 178.4 331.95 180.22 332.2 182C332.45 183.78 332.6 185.93 332.9 188.6C333.2 191.27 333.65 194.67 334 198C334.35 201.33 334.7 204.1 335 208.6C335.3 213.1 335.58 219.85 335.8 225C336.02 230.15 336.12 239.5 336.3 239.5C336.48 239.5 336.67 229.75 336.9 225C337.13 220.25 337.42 214.93 337.7 211C337.98 207.07 338.22 205.13 338.6 201.4C338.98 197.67 339.52 190.92 340 188.6C340.48 186.28 341.02 187.77 341.5 187.5C341.98 187.23 342.55 187.75 342.9 187C343.25 186.25 343.37 185 343.6 183C343.83 181 344.09 178.83 344.3 175C344.51 171.17 344.68 164.03 344.85 160C345.02 155.97 345.14 151.3 345.3 150.8C345.46 150.3 345.62 154.63 345.8 157C345.98 159.37 346.18 162.17 346.4 165C346.62 167.83 346.9 171.83 347.1 174C347.3 176.17 347.38 178.33 347.6 178C347.82 177.67 348.12 173.55 348.4 172C348.68 170.45 349.03 168.53 349.3 168.7C349.57 168.87 349.77 171.12 350 173C350.23 174.88 350.42 178.08 350.7 180C350.98 181.92 351.33 183.33 351.7 184.5C352.07 185.67 352.35 185.97 352.9 187C353.45 188.03 354.4 190.23 355 190.7C355.6 191.17 356.02 190.03 356.5 189.8C356.98 189.57 357.43 189.18 357.9 189.3C358.37 189.42 358.83 190.05 359.3 190.5C359.77 190.95 359.98 191.33 360.7 192C361.42 192.67 362.88 194.42 363.6 194.5C364.32 194.58 364.53 193.42 365 192.5C365.47 191.58 365.98 190.5 366.4 189C366.82 187.5 367.17 184.83 367.5 183.5C367.83 182.17 368.1 180.83 368.4 181C368.7 181.17 369 183.1 369.3 184.5C369.6 185.9 369.92 188.85 370.2 189.4C370.48 189.95 370.75 188.2 371 187.8C371.25 187.4 371.43 186.72 371.7 187C371.97 187.28 372.3 188.5 372.6 189.5C372.9 190.5 372.87 191.78 373.5 193C374.13 194.22 375.68 196.05 376.4 196.8C377.12 197.55 377.45 196.97 377.8 197.5C378.15 198.03 378.3 198.8 378.5 200C378.7 201.2 378.83 203.08 379 204.7C379.17 206.32 379.32 209.65 379.5 209.7C379.68 209.75 379.9 206.55 380.1 205C380.3 203.45 380.48 201.82 380.7 200.4C380.92 198.98 381.17 197.45 381.4 196.5C381.63 195.55 381.8 194.83 382.1 194.7C382.4 194.57 382.83 195.23 383.2 195.7C383.57 196.17 384 197.12 384.3 197.5C384.6 197.88 384.88 197.92 385 198" fill="none" stroke="#111" stroke-width="1.05" stroke-linejoin="round" stroke-linecap="round"/>
<path d="M228.1 199.6C228.33 198.83 229.02 196.88 229.5 195C229.98 193.12 230.6 190.55 231 188.3C231.4 186.05 231.6 183.12 231.9 181.5C232.2 179.88 232.52 178.93 232.8 178.6C233.08 178.27 233.3 179.02 233.6 179.5C233.9 179.98 234.08 180.52 234.6 181.5C235.12 182.48 236.12 183.92 236.7 185.4C237.28 186.88 237.73 188.97 238.1 190.4C238.47 191.83 238.53 192.35 238.9 194C239.27 195.65 239.6 198.18 240.3 200.3C241 202.42 242.15 204.32 243.1 206.7C244.05 209.08 245.32 212.63 246 214.6C246.68 216.57 246.85 217.6 247.2 218.5C247.55 219.4 247.82 220.25 248.1 220C248.38 219.75 248.65 218.38 248.9 217C249.15 215.62 249.13 214.25 249.6 211.7C250.07 209.15 250.87 204.32 251.7 201.7C252.53 199.08 253.77 197.55 254.6 196C255.43 194.45 256.12 194.3 256.7 192.4C257.28 190.5 257.73 188.23 258.1 184.6C258.47 180.97 258.58 174.7 258.9 170.6C259.22 166.5 259.67 162.47 260 160C260.33 157.53 260.62 156.7 260.9 155.8C261.18 154.9 261.38 154.65 261.7 154.6C262.02 154.55 262.43 154.98 262.8 155.5C263.17 156.02 263.37 155.18 263.9 157.7C264.43 160.22 265.42 166.57 266 170.6C266.58 174.63 266.92 179.33 267.4 181.9C267.88 184.47 268.3 183.42 268.9 186C269.5 188.58 270.3 193.58 271 197.4C271.7 201.22 272.5 206.5 273.1 208.9C273.7 211.3 274.15 211.22 274.6 211.8C275.05 212.38 275.4 212.87 275.8 212.4C276.2 211.93 276.58 211.02 277 209C277.42 206.98 277.62 202.95 278.3 200.3C278.98 197.65 280.15 194.77 281.1 193.1C282.05 191.43 283.03 190.42 284 190.3C284.97 190.18 286.07 192.17 286.9 192.4C287.73 192.63 288.33 193 289 191.7C289.67 190.4 290.35 187.22 290.9 184.6C291.45 181.98 291.93 178.05 292.3 176C292.67 173.95 292.87 173.08 293.1 172.3C293.33 171.52 293.52 171.27 293.7 171.3C293.88 171.33 294.03 171.72 294.2 172.5C294.37 173.28 294.5 173.03 294.7 176C294.9 178.97 295.08 184.3 295.4 190.3C295.72 196.3 296.3 205.05 296.6 212C296.9 218.95 297.02 226.3 297.2 232C297.38 237.7 297.45 242.13 297.7 246.2C297.95 250.27 298.45 254.27 298.7 256.4C298.95 258.53 299.03 258.4 299.2 259C299.37 259.6 299.5 260.17 299.7 260C299.9 259.83 300.15 258.93 300.4 258C300.65 257.07 300.8 255.57 301.2 254.4C301.6 253.23 302.22 251.48 302.8 251C303.38 250.52 304.15 252.67 304.7 251.5C305.25 250.33 305.5 246.58 306.1 244C306.7 241.42 307.47 238.95 308.3 236C309.13 233.05 310 228.97 311.1 226.3C312.2 223.63 314.08 223.02 314.9 220C315.72 216.98 315.47 211.42 316 208.2C316.53 204.98 317.3 202.67 318.1 200.7C318.9 198.73 319.9 197.65 320.8 196.4C321.7 195.15 322.78 194.27 323.5 193.2C324.22 192.13 324.68 192.2 325.1 190C325.52 187.8 325.68 182.75 326 180C326.32 177.25 326.68 174.83 327 173.5C327.32 172.17 327.62 171.92 327.9 172C328.18 172.08 328.43 172.67 328.7 174C328.97 175.33 329.03 177.33 329.5 180C329.97 182.67 330.73 187.33 331.5 190C332.27 192.67 333.07 194.28 334.1 196C335.13 197.72 336.38 199.13 337.7 200.3C339.02 201.47 340.68 201.82 342 203C343.32 204.18 344.65 205.95 345.6 207.4C346.55 208.85 346.98 210.62 347.7 211.7C348.42 212.78 349.07 213.18 349.9 213.9C350.73 214.62 351.92 215.32 352.7 216C353.48 216.68 354.08 218 354.6 218C355.12 218 355.4 216.93 355.8 216C356.2 215.07 356.32 213.47 357 212.4C357.68 211.33 358.72 210.55 359.9 209.6C361.08 208.65 362.8 207.18 364.1 206.7C365.4 206.22 366.83 206.52 367.7 206.7C368.57 206.88 368.8 207.42 369.3 207.8C369.8 208.18 370.25 209.13 370.7 209C371.15 208.87 371.53 207.95 372 207C372.47 206.05 372.77 204.77 373.5 203.3C374.23 201.83 375.43 199.77 376.4 198.2C377.37 196.63 378.57 195.05 379.3 193.9C380.03 192.75 380.33 191.9 380.8 191.3C381.27 190.7 381.58 190.22 382.1 190.3C382.62 190.38 383.42 191.35 383.9 191.8C384.38 192.25 384.82 192.8 385 193" fill="none" stroke="#ffa000" stroke-width="1.2" stroke-linejoin="round" stroke-linecap="round"/>
<path d="M228.1 199C228.33 198.67 229.05 197.75 229.5 197C229.95 196.25 230.42 195.5 230.8 194.5C231.18 193.5 231.47 192.42 231.8 191C232.13 189.58 232.45 187.35 232.8 186C233.15 184.65 233.57 183.15 233.9 182.9C234.23 182.65 234.52 183.78 234.8 184.5C235.08 185.22 235.23 187.12 235.6 187.2C235.97 187.28 236.52 185.77 237 185C237.48 184.23 238.08 182.68 238.5 182.6C238.92 182.52 239.2 183.55 239.5 184.5C239.8 185.45 239.98 186.72 240.3 188.3C240.62 189.88 241.05 192 241.4 194C241.75 196 241.87 197.82 242.4 200.3C242.93 202.78 244 206.45 244.6 208.9C245.2 211.35 245.58 213.38 246 215C246.42 216.62 246.77 218.35 247.1 218.6C247.43 218.85 247.68 217.6 248 216.5C248.32 215.4 248.5 214.25 249 212C249.5 209.75 250.07 205.43 251 203C251.93 200.57 253.42 199.28 254.6 197.4C255.78 195.52 257.03 194.1 258.1 191.7C259.17 189.3 260.28 185.62 261 183C261.72 180.38 262 179.27 262.4 176C262.8 172.73 263.08 167.23 263.4 163.4C263.72 159.57 264.07 155.23 264.3 153C264.53 150.77 264.63 150.68 264.8 150C264.97 149.32 265.13 148.9 265.3 148.9C265.47 148.9 265.62 149.32 265.8 150C265.98 150.68 266.13 151.23 266.4 153C266.67 154.77 266.98 156.72 267.4 160.6C267.82 164.48 268.3 171.83 268.9 176.3C269.5 180.77 270.3 183.88 271 187.4C271.7 190.92 272.38 194.07 273.1 197.4C273.82 200.73 274.77 205.25 275.3 207.4C275.83 209.55 276 209.7 276.3 210.3C276.6 210.9 276.82 211.38 277.1 211C277.38 210.62 277.57 210.27 278 208C278.43 205.73 279.05 200.35 279.7 197.4C280.35 194.45 281.18 192.2 281.9 190.3C282.62 188.4 283.3 186.38 284 186C284.7 185.62 285.5 187.83 286.1 188C286.7 188.17 287.12 187.57 287.6 187C288.08 186.43 288.5 185.93 289 184.6C289.5 183.27 290.22 180.77 290.6 179C290.98 177.23 291.05 176.33 291.3 174C291.55 171.67 291.88 167.17 292.1 165C292.32 162.83 292.45 161.85 292.6 161C292.75 160.15 292.87 159.9 293 159.9C293.13 159.9 293.25 160.15 293.4 161C293.55 161.85 293.67 162.5 293.9 165C294.13 167.5 294.47 170.6 294.8 176C295.13 181.4 295.43 191.4 295.9 197.4C296.37 203.4 297.12 206.57 297.6 212C298.08 217.43 298.4 224.67 298.8 230C299.2 235.33 299.67 239.67 300 244C300.33 248.33 300.57 253.42 300.8 256C301.03 258.58 301.2 259.42 301.4 259.5C301.6 259.58 301.77 257.7 302 256.5C302.23 255.3 302.5 253.17 302.8 252.3C303.1 251.43 303.5 251.27 303.8 251.3C304.1 251.33 304.35 251.98 304.6 252.5C304.85 253.02 305.05 253.73 305.3 254.4C305.55 255.07 305.85 256 306.1 256.5C306.35 257 306.55 257.73 306.8 257.4C307.05 257.07 307.33 255.85 307.6 254.5C307.87 253.15 308.1 252.38 308.4 249.3C308.7 246.22 308.85 240.88 309.4 236C309.95 231.12 310.97 224.63 311.7 220C312.43 215.37 313 211.23 313.8 208.2C314.6 205.17 315.52 203.58 316.5 201.8C317.48 200.02 318.72 199.12 319.7 197.5C320.68 195.88 321.77 194.18 322.4 192.1C323.03 190.02 323.12 187.68 323.5 185C323.88 182.32 324.37 178.25 324.7 176C325.03 173.75 325.25 172.57 325.5 171.5C325.75 170.43 325.95 169.6 326.2 169.6C326.45 169.6 326.73 170.43 327 171.5C327.27 172.57 327.52 174.58 327.8 176C328.08 177.42 328.27 178.33 328.7 180C329.13 181.67 329.73 183.5 330.4 186C331.07 188.5 331.72 192.73 332.7 195C333.68 197.27 334.98 198.48 336.3 199.6C337.62 200.72 339.3 200.87 340.6 201.7C341.9 202.53 343.03 203.4 344.1 204.6C345.17 205.8 346.27 208.1 347 208.9C347.73 209.7 348.02 209.28 348.5 209.4C348.98 209.52 349.32 208.98 349.9 209.6C350.48 210.22 351.4 212.03 352 213.1C352.6 214.17 353.07 215.28 353.5 216C353.93 216.72 354.23 217.57 354.6 217.4C354.97 217.23 355.3 216.18 355.7 215C356.1 213.82 356.3 212.03 357 210.3C357.7 208.57 358.83 205.92 359.9 204.6C360.97 203.28 362.1 202.67 363.4 202.4C364.7 202.13 366.6 202.57 367.7 203C368.8 203.43 369.4 204.5 370 205C370.6 205.5 370.9 206 371.3 206C371.7 206 372.05 205.5 372.4 205C372.75 204.5 372.63 204.27 373.4 203C374.17 201.73 376.12 199.23 377 197.4C377.88 195.57 378.2 193.3 378.7 192C379.2 190.7 379.57 189.85 380 189.6C380.43 189.35 380.83 190.02 381.3 190.5C381.77 190.98 382.3 191.8 382.8 192.5C383.3 193.2 383.93 194.12 384.3 194.7C384.67 195.28 384.88 195.78 385 196" fill="none" stroke="#ff2020" stroke-width="1.2" stroke-linejoin="round" stroke-linecap="round"/>
</g>
<rect x="228" y="143.6" width="156.6" height="117.1" fill="none" stroke="#444" stroke-width="0.55"/>
<path d="M378.34 260.7v-1.2M378.34 143.6v1.2M372.07 260.7v-1.2M372.07 143.6v1.2M365.81 260.7v-1.2M365.81 143.6v1.2M359.54 260.7v-1.2M359.54 143.6v1.2M353.28 260.7v-2.4M353.28 143.6v2.4M347.02 260.7v-1.2M347.02 143.6v1.2M340.75 260.7v-1.2M340.75 143.6v1.2M334.49 260.7v-1.2M334.49 143.6v1.2M328.22 260.7v-1.2M328.22 143.6v1.2M321.96 260.7v-2.4M321.96 143.6v2.4M315.7 260.7v-1.2M315.7 143.6v1.2M309.43 260.7v-1.2M309.43 143.6v1.2M303.17 260.7v-1.2M303.17 143.6v1.2M296.9 260.7v-1.2M296.9 143.6v1.2M290.64 260.7v-2.4M290.64 143.6v2.4M284.38 260.7v-1.2M284.38 143.6v1.2M278.11 260.7v-1.2M278.11 143.6v1.2M271.85 260.7v-1.2M271.85 143.6v1.2M265.58 260.7v-1.2M265.58 143.6v1.2M259.32 260.7v-2.4M259.32 143.6v2.4M253.06 260.7v-1.2M253.06 143.6v1.2M246.79 260.7v-1.2M246.79 143.6v1.2M240.53 260.7v-1.2M240.53 143.6v1.2M234.26 260.7v-1.2M234.26 143.6v1.2M228 259.1h2.4M384.6 259.1h-2.4M228 244.78h2.4M384.6 244.78h-2.4M228 230.45h2.4M384.6 230.45h-2.4M228 216.12h2.4M384.6 216.12h-2.4M228 201.8h2.4M384.6 201.8h-2.4M228 187.48h2.4M384.6 187.48h-2.4M228 173.15h2.4M384.6 173.15h-2.4M228 158.83h2.4M384.6 158.83h-2.4M228 144.5h2.4M384.6 144.5h-2.4M228 256.24h1.2M384.6 256.24h-1.2M228 253.37h1.2M384.6 253.37h-1.2M228 250.5h1.2M384.6 250.5h-1.2M228 247.64h1.2M384.6 247.64h-1.2M228 241.91h1.2M384.6 241.91h-1.2M228 239.05h1.2M384.6 239.05h-1.2M228 236.18h1.2M384.6 236.18h-1.2M228 233.31h1.2M384.6 233.31h-1.2M228 227.59h1.2M384.6 227.59h-1.2M228 224.72h1.2M384.6 224.72h-1.2M228 221.86h1.2M384.6 221.86h-1.2M228 218.99h1.2M384.6 218.99h-1.2M228 213.26h1.2M384.6 213.26h-1.2M228 210.4h1.2M384.6 210.4h-1.2M228 207.53h1.2M384.6 207.53h-1.2M228 204.67h1.2M384.6 204.67h-1.2M228 198.94h1.2M384.6 198.94h-1.2M228 196.07h1.2M384.6 196.07h-1.2M228 193.21h1.2M384.6 193.21h-1.2M228 190.34h1.2M384.6 190.34h-1.2M228 184.61h1.2M384.6 184.61h-1.2M228 181.75h1.2M384.6 181.75h-1.2M228 178.88h1.2M384.6 178.88h-1.2M228 176.02h1.2M384.6 176.02h-1.2M228 170.29h1.2M384.6 170.29h-1.2M228 167.42h1.2M384.6 167.42h-1.2M228 164.56h1.2M384.6 164.56h-1.2M228 161.69h1.2M384.6 161.69h-1.2M228 155.96h1.2M384.6 155.96h-1.2M228 153.1h1.2M384.6 153.1h-1.2M228 150.23h1.2M384.6 150.23h-1.2M228 147.37h1.2M384.6 147.37h-1.2" stroke="#444" stroke-width="0.55" fill="none"/>
<text x="384.6" y="268.3" text-anchor="middle">1000</text>
<text x="353.28" y="268.3" text-anchor="middle">1100</text>
<text x="321.96" y="268.3" text-anchor="middle">1200</text>
<text x="290.64" y="268.3" text-anchor="middle">1300</text>
<text x="259.32" y="268.3" text-anchor="middle">1400</text>
<text x="228" y="268.3" text-anchor="middle">1500</text>
<text x="225.1" y="261.2" text-anchor="end">−1.00</text>
<text x="225.1" y="246.88" text-anchor="end">−0.75</text>
<text x="225.1" y="232.55" text-anchor="end">−0.50</text>
<text x="225.1" y="218.22" text-anchor="end">−0.25</text>
<text x="225.1" y="203.9" text-anchor="end">0.00</text>
<text x="225.1" y="189.58" text-anchor="end">0.25</text>
<text x="225.1" y="175.25" text-anchor="end">0.50</text>
<text x="225.1" y="160.93" text-anchor="end">0.75</text>
<text x="225.1" y="146.6" text-anchor="end">1.00</text>
<text x="294.8" y="277.7"><tspan font-style="italic">ν̃</tspan></text>
<text x="299.9" y="277.7">/</text>
<text x="302.6" y="277.7">cm</text>
<text x="312.3" y="276" font-size="4.6">−</text>
<text x="315.4" y="276" font-size="4.6">1</text>
<text transform="translate(204 202.15) rotate(-90)" text-anchor="middle"><tspan font-style="italic">I</tspan> / a.u.</text>
</svg>
</body>
</html>
